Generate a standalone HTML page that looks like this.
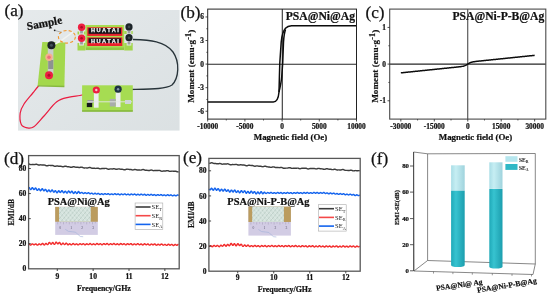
<!DOCTYPE html>
<html><head><meta charset="utf-8"><title>Figure</title>
<style>html,body{margin:0;padding:0;background:#fff;} svg{display:block;}</style></head>
<body><svg width="550" height="297" viewBox="0 0 550 297">
<defs>
<linearGradient id="bgsh" x1="0" y1="0" x2="1" y2="1"><stop offset="0" stop-color="#eef1f2" stop-opacity="0.4"/><stop offset="1" stop-color="#d2d9db" stop-opacity="0.35"/></linearGradient>
<linearGradient id="cyl1" x1="0" y1="0" x2="1" y2="0"><stop offset="0" stop-color="#a9dde6"/><stop offset="0.35" stop-color="#c6eef3"/><stop offset="1" stop-color="#9fd3dd"/></linearGradient>
<linearGradient id="cyl2" x1="0" y1="0" x2="1" y2="0"><stop offset="0" stop-color="#1fa9b8"/><stop offset="0.35" stop-color="#37c3d0"/><stop offset="1" stop-color="#1c9eae"/></linearGradient>
<pattern id="hatch" width="3.2" height="3.2" patternUnits="userSpaceOnUse" patternTransform="rotate(40)"><line x1="0" y1="0" x2="0" y2="3.2" stroke="#97aea6" stroke-width="0.6"/></pattern>
<pattern id="hatch2" width="3.2" height="3.2" patternUnits="userSpaceOnUse" patternTransform="rotate(-40)"><line x1="0" y1="0" x2="0" y2="3.2" stroke="#eef4f1" stroke-width="0.7"/></pattern>
</defs>
<rect width="550" height="297" fill="#fff"/>
<g>
<rect x="18" y="10" width="161.5" height="120.5" fill="#e0e5e7"/>
<rect x="18" y="10" width="161.5" height="120.5" fill="url(#bgsh)"/>
<path d="M133,39.5 C150,40 165,41 173,52 C180,62 179,78 172,85 C165,89.5 150,89 126,89.5" fill="none" stroke="#28343a" stroke-width="1.3"/>
<path d="M46.5,77.5 C45.58,78.42 43.28,80.42 41,83 C38.72,85.58 35.63,89.5 32.8,93 C29.97,96.5 26.1,100.67 24,104 C21.9,107.33 20.65,109.58 20.2,113 C19.75,116.42 20.17,122.03 21.3,124.5 C22.43,126.97 24.92,127.42 27,127.8 C29.08,128.18 30.97,128.77 33.8,126.8 C36.63,124.83 40.17,120.17 44,116 C47.83,111.83 52.58,104.95 56.8,101.8 C61.02,98.65 65.43,98.15 69.3,97.1 C73.17,96.05 76.7,96.18 80,95.5 C83.3,94.82 86.7,93.92 89.1,93 C91.5,92.08 93.52,90.5 94.4,90" fill="none" stroke="#ea1c40" stroke-width="1.2"/>
<polygon points="42.3,42 65.4,42.5 64.4,86.3 37.6,85.7" fill="#a3d84c"/>
<polygon points="37.6,85.2 64.4,85.8 64.4,87.2 37.8,86.6" fill="#86b83e"/>
<path d="M54,44.5 L60.5,41 L73,32" stroke="#f2f3f0" stroke-width="1.5" fill="none"/>
<rect x="47.8" y="48" width="5.6" height="26" fill="#c9cccc"/>
<rect x="48.2" y="60" width="5" height="9" fill="#8d9290"/>
<circle cx="51.4" cy="45.3" r="4" fill="#1b2226"/><circle cx="51.4" cy="45.3" r="1.5" fill="#43505a"/>
<circle cx="49" cy="57.2" r="3.7" fill="#f4b08c"/><circle cx="49" cy="57.2" r="1.8" fill="#ec6e7c"/>
<circle cx="49" cy="75.2" r="4" fill="#ec1f42"/><circle cx="49" cy="75.2" r="1.5" fill="#b01028"/>
<rect x="85.4" y="25" width="38.8" height="24.8" fill="#a8dc50"/>
<rect x="77.5" y="43" width="8" height="7.5" fill="#a2d64c"/>
<rect x="124.2" y="43" width="8.5" height="7.5" fill="#a2d64c"/>
<rect x="77.5" y="31.5" width="8" height="3" fill="#a2d64c"/>
<rect x="124.2" y="31" width="8.5" height="3" fill="#a2d64c"/>
<rect x="86" y="47.5" width="38" height="2.6" fill="#90c642"/>
<rect x="79.2" y="29" width="4.6" height="5.5" fill="#e8eaea"/>
<rect x="80.1" y="30.5" width="2.8" height="3" fill="#9ca0a0"/>
<rect x="79.2" y="40" width="4.6" height="5.5" fill="#e8eaea"/>
<rect x="80.1" y="41.5" width="2.8" height="3" fill="#9ca0a0"/>
<rect x="126.7" y="29" width="4.6" height="5.5" fill="#e8eaea"/>
<rect x="127.6" y="30.5" width="2.8" height="3" fill="#9ca0a0"/>
<rect x="126.7" y="40" width="4.6" height="5.5" fill="#e8eaea"/>
<rect x="127.6" y="41.5" width="2.8" height="3" fill="#9ca0a0"/>
<rect x="87.3" y="27.3" width="35" height="8.6" fill="#e8202c"/>
<rect x="88.6" y="28.2" width="32.4" height="5.6" fill="#16161a"/>
<text x="105.7" y="32.4" text-anchor="middle" style="font-size:5.6px;font-weight:bold;font-family:'Liberation Sans',sans-serif;letter-spacing:1.5px" fill="#f6f6f6" stroke="#f6f6f6" stroke-width="0.25">HUATAI</text>
<rect x="87.3" y="37.4" width="35" height="8.6" fill="#e8202c"/>
<rect x="88.6" y="38.3" width="32.4" height="4.6" fill="#16161a"/>
<text x="105.7" y="42.5" text-anchor="middle" style="font-size:5.6px;font-weight:bold;font-family:'Liberation Sans',sans-serif;letter-spacing:1.5px" fill="#f6f6f6" stroke="#f6f6f6" stroke-width="0.25">HUATAI</text>
<circle cx="81.6" cy="27.2" r="3.7" fill="#ee1f40"/><circle cx="81.6" cy="27.2" r="1.3" fill="#a80d22"/>
<circle cx="81.6" cy="38.3" r="3.7" fill="#ee1f40"/><circle cx="81.6" cy="38.3" r="1.3" fill="#a80d22"/>
<circle cx="129" cy="26.9" r="3.6" fill="#1c2428"/><circle cx="129" cy="26.9" r="1.3" fill="#3d474c"/>
<circle cx="129" cy="37.7" r="3.6" fill="#1c2428"/><circle cx="129" cy="37.7" r="1.3" fill="#3d474c"/>
<ellipse cx="66.9" cy="36.8" rx="8.5" ry="6.3" fill="none" stroke="#f2962a" stroke-width="1.1" stroke-dasharray="3,2.2"/>
<circle cx="54.7" cy="30.3" r="0.9" fill="#222"/>
<line x1="55" y1="30.5" x2="61.5" y2="32.3" stroke="#777" stroke-width="0.5"/>
<text transform="translate(27.5,30.2) rotate(-11)" style="font-size:11.3px;font-weight:bold;font-family:'Liberation Serif',serif" fill="#111" stroke="#111" stroke-width="0.25">Sample</text>
<rect x="82.1" y="85.3" width="50.7" height="25.9" fill="#a6dc52"/>
<rect x="82.1" y="110.2" width="50.7" height="1.6" fill="#86b83e"/>
<rect x="93.9" y="93" width="4.7" height="14.7" fill="#eceeee"/>
<rect x="115.7" y="92.4" width="4.8" height="14.7" fill="#eceeee"/>
<rect x="87.4" y="100" width="5.9" height="3" fill="#9a9c9c"/>
<rect x="86.8" y="103" width="5.4" height="4.1" fill="#15181a"/>
<rect x="109.8" y="98.9" width="5.9" height="7.6" fill="#a9acac"/>
<line x1="87.4" y1="101.8" x2="132" y2="101.8" stroke="#e4e6e6" stroke-width="0.9"/>
<rect x="125" y="100" width="6" height="4" fill="#cfd6d6"/>
<circle cx="96.3" cy="90" r="3.6" fill="#ee1f40"/><circle cx="96.3" cy="90" r="1.2" fill="#f5c8cf"/>
<circle cx="118.1" cy="89.2" r="3.6" fill="#1e3244"/><circle cx="118.1" cy="89.2" r="1.2" fill="#7f94a4"/>
</g>
<text x="4.5" y="16.4" style="font-size:17.2px;font-family:'Liberation Serif',serif" fill="#111" stroke="#111" stroke-width="0.25">(a)</text>
<text x="180.5" y="17.9" style="font-size:17.2px;font-family:'Liberation Serif',serif" fill="#111" stroke="#111" stroke-width="0.25">(b)</text>
<line x1="207.7" y1="64.3" x2="356.5" y2="64.3" stroke="#262626" stroke-width="1.1"/>
<line x1="282.3" y1="9.1" x2="282.3" y2="119.1" stroke="#333" stroke-width="1.1"/>
<path d="M207.7,101.9 L273.3,101.9 C276.6,101.9 278.4,99.5 279,92 L279.4,77 L279.8,63 L281.2,42 C281.8,35.5 283,31 285.5,28.2 C287,26.6 288.8,25.8 291.5,25.7 L356.5,25.7" fill="none" stroke="#0c0c0c" stroke-width="1.5" stroke-linejoin="round"/>
<path d="M279,92 C280.2,87 281.3,81.5 281.7,77 L282.7,63 L283.5,42 C283.8,37 284.5,32.5 285.5,29.5" fill="none" stroke="#0c0c0c" stroke-width="1.5" stroke-linejoin="round"/>
<rect x="207.7" y="9.1" width="148.8" height="110" fill="none" stroke="#222" stroke-width="1"/>
<line x1="205.5" y1="111.24" x2="207.7" y2="111.24" stroke="#222" stroke-width="0.8"/>
<text x="204" y="113.74" text-anchor="end" style="font-size:7.4px;font-weight:bold;font-family:'Liberation Serif',serif" fill="#111" stroke="#111" stroke-width="0.22" >-6</text>
<line x1="205.5" y1="87.67" x2="207.7" y2="87.67" stroke="#222" stroke-width="0.8"/>
<text x="204" y="90.17" text-anchor="end" style="font-size:7.4px;font-weight:bold;font-family:'Liberation Serif',serif" fill="#111" stroke="#111" stroke-width="0.22" >-3</text>
<line x1="205.5" y1="64.1" x2="207.7" y2="64.1" stroke="#222" stroke-width="0.8"/>
<text x="204" y="66.6" text-anchor="end" style="font-size:7.4px;font-weight:bold;font-family:'Liberation Serif',serif" fill="#111" stroke="#111" stroke-width="0.22" >0</text>
<line x1="205.5" y1="40.53" x2="207.7" y2="40.53" stroke="#222" stroke-width="0.8"/>
<text x="204" y="43.03" text-anchor="end" style="font-size:7.4px;font-weight:bold;font-family:'Liberation Serif',serif" fill="#111" stroke="#111" stroke-width="0.22" >3</text>
<line x1="205.5" y1="16.96" x2="207.7" y2="16.96" stroke="#222" stroke-width="0.8"/>
<text x="204" y="19.46" text-anchor="end" style="font-size:7.4px;font-weight:bold;font-family:'Liberation Serif',serif" fill="#111" stroke="#111" stroke-width="0.22" >6</text>
<line x1="206.29999999999998" y1="99.46" x2="207.7" y2="99.46" stroke="#222" stroke-width="0.7"/>
<line x1="206.29999999999998" y1="75.89" x2="207.7" y2="75.89" stroke="#222" stroke-width="0.7"/>
<line x1="206.29999999999998" y1="52.31" x2="207.7" y2="52.31" stroke="#222" stroke-width="0.7"/>
<line x1="206.29999999999998" y1="28.74" x2="207.7" y2="28.74" stroke="#222" stroke-width="0.7"/>
<line x1="207.7" y1="119.1" x2="207.7" y2="121.5" stroke="#222" stroke-width="0.8"/>
<text x="207.7" y="128.8" text-anchor="middle" style="font-size:7.4px;font-weight:bold;font-family:'Liberation Serif',serif" fill="#111" stroke="#111" stroke-width="0.22" >-10000</text>
<line x1="244.9" y1="119.1" x2="244.9" y2="121.5" stroke="#222" stroke-width="0.8"/>
<text x="244.9" y="128.8" text-anchor="middle" style="font-size:7.4px;font-weight:bold;font-family:'Liberation Serif',serif" fill="#111" stroke="#111" stroke-width="0.22" >-5000</text>
<line x1="282.1" y1="119.1" x2="282.1" y2="121.5" stroke="#222" stroke-width="0.8"/>
<text x="282.1" y="128.8" text-anchor="middle" style="font-size:7.4px;font-weight:bold;font-family:'Liberation Serif',serif" fill="#111" stroke="#111" stroke-width="0.22" >0</text>
<line x1="319.3" y1="119.1" x2="319.3" y2="121.5" stroke="#222" stroke-width="0.8"/>
<text x="319.3" y="128.8" text-anchor="middle" style="font-size:7.4px;font-weight:bold;font-family:'Liberation Serif',serif" fill="#111" stroke="#111" stroke-width="0.22" >5000</text>
<line x1="356.5" y1="119.1" x2="356.5" y2="121.5" stroke="#222" stroke-width="0.8"/>
<text x="356.5" y="128.8" text-anchor="middle" style="font-size:7.4px;font-weight:bold;font-family:'Liberation Serif',serif" fill="#111" stroke="#111" stroke-width="0.22" >10000</text>
<line x1="226.3" y1="119.1" x2="226.3" y2="120.5" stroke="#222" stroke-width="0.7"/>
<line x1="263.5" y1="119.1" x2="263.5" y2="120.5" stroke="#222" stroke-width="0.7"/>
<line x1="300.7" y1="119.1" x2="300.7" y2="120.5" stroke="#222" stroke-width="0.7"/>
<line x1="337.9" y1="119.1" x2="337.9" y2="120.5" stroke="#222" stroke-width="0.7"/>
<text x="290.5" y="140" text-anchor="middle" style="font-size:8.9px;font-weight:bold;font-family:'Liberation Serif',serif" fill="#111" stroke="#111" stroke-width="0.22" >Magnetic field (Oe)</text>
<text transform="translate(194,66.3) rotate(-90)" text-anchor="middle" style="font-size:9.2px;font-weight:bold;font-family:'Liberation Serif',serif" fill="#111" stroke="#111" stroke-width="0.2">Moment (emu·g<tspan dy="-3.2" style="font-size:8.4px">-1</tspan><tspan dy="3.2">)</tspan></text>
<text x="355" y="20.2" text-anchor="end" style="font-size:11.6px;font-weight:bold;font-family:'Liberation Serif',serif" fill="#111" stroke="#111" stroke-width="0.22" >PSA@Ni@Ag</text>
<text x="365.5" y="17.5" style="font-size:17.2px;font-family:'Liberation Serif',serif" fill="#111" stroke="#111" stroke-width="0.25">(c)</text>
<line x1="389.7" y1="64.1" x2="545.8" y2="64.1" stroke="#262626" stroke-width="1.1"/>
<line x1="467.75" y1="9.1" x2="467.75" y2="119.1" stroke="#3a3a3a" stroke-width="1"/>
<polyline points="400.85,72.86 401.41,72.81 401.96,72.75 402.52,72.69 403.08,72.63 403.64,72.57 404.19,72.52 404.75,72.46 405.31,72.4 405.87,72.34 406.42,72.29 406.98,72.23 407.54,72.17 408.1,72.11 408.65,72.05 409.21,72 409.77,71.94 410.33,71.88 410.88,71.82 411.44,71.77 412,71.71 412.56,71.65 413.12,71.59 413.67,71.54 414.23,71.48 414.79,71.42 415.34,71.36 415.9,71.3 416.46,71.25 417.02,71.19 417.57,71.13 418.13,71.07 418.69,71.02 419.25,70.96 419.81,70.9 420.36,70.84 420.92,70.78 421.48,70.73 422.03,70.67 422.59,70.61 423.15,70.55 423.71,70.5 424.26,70.44 424.82,70.38 425.38,70.32 425.94,70.26 426.5,70.21 427.05,70.15 427.61,70.09 428.17,70.03 428.72,69.98 429.28,69.92 429.84,69.86 430.4,69.8 430.95,69.74 431.51,69.69 432.07,69.63 432.63,69.57 433.19,69.51 433.74,69.46 434.3,69.4 434.86,69.34 435.41,69.28 435.97,69.23 436.53,69.17 437.09,69.11 437.64,69.05 438.2,68.99 438.76,68.94 439.32,68.88 439.88,68.82 440.43,68.76 440.99,68.71 441.55,68.65 442.1,68.59 442.66,68.53 443.22,68.47 443.78,68.42 444.33,68.36 444.89,68.3 445.45,68.24 446.01,68.19 446.56,68.13 447.12,68.07 447.68,68.01 448.24,67.95 448.79,67.9 449.35,67.84 449.91,67.78 450.47,67.72 451.02,67.67 451.58,67.61 452.14,67.55 452.7,67.49 453.25,67.43 453.81,67.38 454.37,67.32 454.93,67.26 455.48,67.2 456.04,67.14 456.6,67.08 457.16,67.02 457.71,66.96 458.27,66.9 458.83,66.84 459.39,66.78 459.94,66.71 460.5,66.64 461.06,66.56 461.62,66.48 462.17,66.38 462.73,66.28 463.29,66.16 463.85,66.01 464.4,65.84 464.96,65.64 465.52,65.4 466.08,65.12 466.63,64.8 467.19,64.46 467.75,64.1 468.31,63.74 468.86,63.4 469.42,63.08 469.98,62.8 470.54,62.56 471.09,62.36 471.65,62.19 472.21,62.04 472.77,61.92 473.32,61.82 473.88,61.72 474.44,61.64 475,61.56 475.55,61.49 476.11,61.42 476.67,61.36 477.23,61.3 477.78,61.24 478.34,61.18 478.9,61.12 479.46,61.06 480.01,61 480.57,60.94 481.13,60.88 481.69,60.82 482.24,60.77 482.8,60.71 483.36,60.65 483.92,60.59 484.47,60.53 485.03,60.48 485.59,60.42 486.15,60.36 486.7,60.3 487.26,60.25 487.82,60.19 488.38,60.13 488.93,60.07 489.49,60.01 490.05,59.96 490.61,59.9 491.16,59.84 491.72,59.78 492.28,59.73 492.84,59.67 493.39,59.61 493.95,59.55 494.51,59.49 495.07,59.44 495.62,59.38 496.18,59.32 496.74,59.26 497.3,59.21 497.85,59.15 498.41,59.09 498.97,59.03 499.53,58.97 500.08,58.92 500.64,58.86 501.2,58.8 501.76,58.74 502.31,58.69 502.87,58.63 503.43,58.57 503.99,58.51 504.54,58.46 505.1,58.4 505.66,58.34 506.22,58.28 506.77,58.22 507.33,58.17 507.89,58.11 508.45,58.05 509,57.99 509.56,57.94 510.12,57.88 510.68,57.82 511.23,57.76 511.79,57.7 512.35,57.65 512.91,57.59 513.46,57.53 514.02,57.47 514.58,57.42 515.14,57.36 515.69,57.3 516.25,57.24 516.81,57.18 517.37,57.13 517.92,57.07 518.48,57.01 519.04,56.95 519.6,56.9 520.15,56.84 520.71,56.78 521.27,56.72 521.83,56.66 522.38,56.61 522.94,56.55 523.5,56.49 524.06,56.43 524.62,56.38 525.17,56.32 525.73,56.26 526.29,56.2 526.85,56.15 527.4,56.09 527.96,56.03 528.52,55.97 529.07,55.91 529.63,55.86 530.19,55.8 530.75,55.74 531.3,55.68 531.86,55.63 532.42,55.57 532.98,55.51 533.53,55.45 534.09,55.39 534.65,55.34" fill="none" stroke="#0c0c0c" stroke-width="1.5"/>
<rect x="389.7" y="9.1" width="156.1" height="110" fill="none" stroke="#4a4a4a" stroke-width="1.1"/>
<line x1="387.5" y1="100.77" x2="389.7" y2="100.77" stroke="#222" stroke-width="0.8"/>
<text x="386" y="103.27" text-anchor="end" style="font-size:7.4px;font-weight:bold;font-family:'Liberation Serif',serif" fill="#111" stroke="#111" stroke-width="0.22" >-1</text>
<line x1="387.5" y1="64.1" x2="389.7" y2="64.1" stroke="#222" stroke-width="0.8"/>
<text x="386" y="66.6" text-anchor="end" style="font-size:7.4px;font-weight:bold;font-family:'Liberation Serif',serif" fill="#111" stroke="#111" stroke-width="0.22" >0</text>
<line x1="387.5" y1="27.43" x2="389.7" y2="27.43" stroke="#222" stroke-width="0.8"/>
<text x="386" y="29.93" text-anchor="end" style="font-size:7.4px;font-weight:bold;font-family:'Liberation Serif',serif" fill="#111" stroke="#111" stroke-width="0.22" >1</text>
<line x1="388.3" y1="82.43" x2="389.7" y2="82.43" stroke="#222" stroke-width="0.7"/>
<line x1="388.3" y1="45.77" x2="389.7" y2="45.77" stroke="#222" stroke-width="0.7"/>
<line x1="400.85" y1="119.1" x2="400.85" y2="121.5" stroke="#222" stroke-width="0.8"/>
<text x="400.85" y="128.8" text-anchor="middle" style="font-size:7.4px;font-weight:bold;font-family:'Liberation Serif',serif" fill="#111" stroke="#111" stroke-width="0.22" >-30000</text>
<line x1="434.3" y1="119.1" x2="434.3" y2="121.5" stroke="#222" stroke-width="0.8"/>
<text x="434.3" y="128.8" text-anchor="middle" style="font-size:7.4px;font-weight:bold;font-family:'Liberation Serif',serif" fill="#111" stroke="#111" stroke-width="0.22" >-15000</text>
<line x1="467.75" y1="119.1" x2="467.75" y2="121.5" stroke="#222" stroke-width="0.8"/>
<text x="467.75" y="128.8" text-anchor="middle" style="font-size:7.4px;font-weight:bold;font-family:'Liberation Serif',serif" fill="#111" stroke="#111" stroke-width="0.22" >0</text>
<line x1="501.2" y1="119.1" x2="501.2" y2="121.5" stroke="#222" stroke-width="0.8"/>
<text x="501.2" y="128.8" text-anchor="middle" style="font-size:7.4px;font-weight:bold;font-family:'Liberation Serif',serif" fill="#111" stroke="#111" stroke-width="0.22" >15000</text>
<line x1="534.65" y1="119.1" x2="534.65" y2="121.5" stroke="#222" stroke-width="0.8"/>
<text x="534.65" y="128.8" text-anchor="middle" style="font-size:7.4px;font-weight:bold;font-family:'Liberation Serif',serif" fill="#111" stroke="#111" stroke-width="0.22" >30000</text>
<line x1="417.57" y1="119.1" x2="417.57" y2="120.5" stroke="#222" stroke-width="0.7"/>
<line x1="451.02" y1="119.1" x2="451.02" y2="120.5" stroke="#222" stroke-width="0.7"/>
<line x1="484.47" y1="119.1" x2="484.47" y2="120.5" stroke="#222" stroke-width="0.7"/>
<line x1="517.92" y1="119.1" x2="517.92" y2="120.5" stroke="#222" stroke-width="0.7"/>
<text x="475.5" y="140" text-anchor="middle" style="font-size:8.9px;font-weight:bold;font-family:'Liberation Serif',serif" fill="#111" stroke="#111" stroke-width="0.22" >Magnetic field (Oe)</text>
<text transform="translate(378.4,66.3) rotate(-90)" text-anchor="middle" style="font-size:9.2px;font-weight:bold;font-family:'Liberation Serif',serif" fill="#111" stroke="#111" stroke-width="0.2">Moment (emu·g<tspan dy="-3.2" style="font-size:8.4px">-1</tspan><tspan dy="3.2">)</tspan></text>
<text x="544.3" y="20.2" text-anchor="end" style="font-size:11.6px;font-weight:bold;font-family:'Liberation Serif',serif" fill="#111" stroke="#111" stroke-width="0.22" >PSA@Ni-P-B@Ag</text>
<text x="4" y="163.5" style="font-size:17.2px;font-family:'Liberation Serif',serif" fill="#111" stroke="#111" stroke-width="0.25">(d)</text>
<polyline points="28.9,163.88 29.15,164 29.4,164.13 29.65,164.26 29.9,164.38 30.15,164.48 30.4,164.56 30.65,164.61 30.9,164.63 31.15,164.63 31.4,164.61 31.65,164.59 31.9,164.56 32.15,164.53 32.4,164.52 32.65,164.52 32.9,164.53 33.15,164.55 33.4,164.57 33.65,164.59 33.9,164.61 34.15,164.61 34.4,164.59 34.65,164.55 34.9,164.51 35.15,164.45 35.4,164.39 35.65,164.33 35.9,164.29 36.15,164.27 36.4,164.28 36.65,164.32 36.9,164.39 37.15,164.48 37.4,164.58 37.65,164.69 37.9,164.8 38.15,164.89 38.4,164.97 38.65,165.01 38.9,165.03 39.15,165.03 39.4,165 39.65,164.96 39.9,164.92 40.15,164.88 40.4,164.85 40.65,164.83 40.9,164.84 41.15,164.86 41.4,164.89 41.65,164.94 41.9,164.98 42.15,165.02 42.4,165.05 42.65,165.07 42.9,165.08 43.15,165.07 43.4,165.05 43.65,165.04 43.9,165.03 44.15,165.03 44.4,165.05 44.65,165.1 44.9,165.17 45.15,165.26 45.4,165.37 45.65,165.48 45.9,165.59 46.15,165.69 46.4,165.77 46.65,165.81 46.9,165.83 47.15,165.82 47.4,165.78 47.65,165.71 47.9,165.64 48.15,165.56 48.4,165.48 48.65,165.42 48.9,165.38 49.15,165.35 49.4,165.35 49.65,165.37 49.9,165.39 50.15,165.42 50.4,165.45 50.65,165.47 50.9,165.48 51.15,165.48 51.4,165.48 51.65,165.46 51.9,165.45 52.15,165.45 52.4,165.46 52.65,165.5 52.9,165.55 53.15,165.64 53.4,165.74 53.65,165.85 53.9,165.97 54.15,166.08 54.4,166.18 54.65,166.25 54.9,166.3 55.15,166.32 55.4,166.31 55.65,166.27 55.9,166.21 56.15,166.15 56.4,166.08 56.65,166.03 56.9,165.99 57.15,165.98 57.4,165.99 57.65,166.02 57.9,166.06 58.15,166.12 58.4,166.17 58.65,166.23 58.9,166.27 59.15,166.3 59.4,166.31 59.65,166.31 59.9,166.31 60.15,166.29 60.4,166.29 60.65,166.29 60.9,166.3 61.15,166.34 61.4,166.39 61.65,166.46 61.9,166.53 62.15,166.6 62.4,166.67 62.65,166.71 62.9,166.73 63.15,166.73 63.4,166.7 63.65,166.64 63.9,166.56 64.15,166.47 64.4,166.38 64.65,166.3 64.9,166.23 65.15,166.19 65.4,166.18 65.65,166.2 65.9,166.24 66.15,166.31 66.4,166.38 66.65,166.47 66.9,166.55 67.15,166.62 67.4,166.67 67.65,166.71 67.9,166.74 68.15,166.76 68.4,166.78 68.65,166.8 68.9,166.82 69.15,166.86 69.4,166.92 69.65,166.98 69.9,167.06 70.15,167.14 70.4,167.21 70.65,167.28 70.9,167.32 71.15,167.33 71.4,167.32 71.65,167.28 71.9,167.21 72.15,167.12 72.4,167.03 72.65,166.94 72.9,166.86 73.15,166.8 73.4,166.76 73.65,166.75 73.9,166.78 74.15,166.82 74.4,166.89 74.65,166.96 74.9,167.03 75.15,167.1 75.4,167.15 75.65,167.19 75.9,167.21 76.15,167.21 76.4,167.2 76.65,167.19 76.9,167.18 77.15,167.18 77.4,167.19 77.65,167.22 77.9,167.26 78.15,167.31 78.4,167.37 78.65,167.42 78.9,167.47 79.15,167.49 79.4,167.5 79.65,167.48 79.9,167.44 80.15,167.39 80.4,167.32 80.65,167.26 80.9,167.2 81.15,167.16 81.4,167.14 81.65,167.15 81.9,167.2 82.15,167.27 82.4,167.36 82.65,167.47 82.9,167.58 83.15,167.69 83.4,167.79 83.65,167.86 83.9,167.91 84.15,167.94 84.4,167.95 84.65,167.94 84.9,167.92 85.15,167.9 85.4,167.88 85.65,167.88 85.9,167.88 86.15,167.9 86.4,167.92 86.65,167.94 86.9,167.96 87.15,167.97 87.4,167.97 87.65,167.94 87.9,167.89 88.15,167.83 88.4,167.75 88.65,167.67 88.9,167.59 89.15,167.53 89.4,167.48 89.65,167.47 89.9,167.48 90.15,167.53 90.4,167.61 90.65,167.7 90.9,167.81 91.15,167.93 91.4,168.03 91.65,168.12 91.9,168.19 92.15,168.24 92.4,168.26 92.65,168.26 92.9,168.25 93.15,168.23 93.4,168.21 93.65,168.2 93.9,168.2 94.15,168.21 94.4,168.24 94.65,168.27 94.9,168.32 95.15,168.35 95.4,168.39 95.65,168.4 95.9,168.4 96.15,168.38 96.4,168.35 96.65,168.3 96.9,168.25 97.15,168.2 97.4,168.17 97.65,168.16 97.9,168.17 98.15,168.21 98.4,168.28 98.65,168.37 98.9,168.47 99.15,168.57 99.4,168.67 99.65,168.76 99.9,168.82 100.15,168.85 100.4,168.85 100.65,168.82 100.9,168.77 101.15,168.71 101.4,168.64 101.65,168.57 101.9,168.51 102.15,168.47 102.4,168.45 102.65,168.44 102.9,168.44 103.15,168.46 103.4,168.48 103.65,168.49 103.9,168.5 104.15,168.49 104.4,168.47 104.65,168.44 104.9,168.41 105.15,168.38 105.4,168.35 105.65,168.35 105.9,168.36 106.15,168.41 106.4,168.48 106.65,168.57 106.9,168.68 107.15,168.8 107.4,168.93 107.65,169.04 107.9,169.13 108.15,169.19 108.4,169.23 108.65,169.23 108.9,169.2 109.15,169.16 109.4,169.09 109.65,169.03 109.9,168.96 110.15,168.91 110.4,168.87 110.65,168.86 110.9,168.86 111.15,168.87 111.4,168.89 111.65,168.91 111.9,168.93 112.15,168.94 112.4,168.93 112.65,168.91 112.9,168.88 113.15,168.84 113.4,168.81 113.65,168.78 113.9,168.76 114.15,168.77 114.4,168.8 114.65,168.85 114.9,168.92 115.15,169 115.4,169.09 115.65,169.18 115.9,169.25 116.15,169.3 116.4,169.33 116.65,169.32 116.9,169.29 117.15,169.23 117.4,169.16 117.65,169.08 117.9,169.01 118.15,168.94 118.4,168.89 118.65,168.87 118.9,168.87 119.15,168.9 119.4,168.94 119.65,169 119.9,169.06 120.15,169.11 120.4,169.16 120.65,169.2 120.9,169.22 121.15,169.23 121.4,169.23 121.65,169.23 121.9,169.24 122.15,169.26 122.4,169.29 122.65,169.34 122.9,169.41 123.15,169.49 123.4,169.57 123.65,169.66 123.9,169.73 124.15,169.78 124.4,169.81 124.65,169.81 124.9,169.77 125.15,169.71 125.4,169.62 125.65,169.52 125.9,169.42 126.15,169.32 126.4,169.23 126.65,169.17 126.9,169.13 127.15,169.13 127.4,169.14 127.65,169.18 127.9,169.22 128.15,169.28 128.4,169.33 128.65,169.37 128.9,169.39 129.15,169.41 129.4,169.41 129.65,169.41 129.9,169.4 130.15,169.41 130.4,169.42 130.65,169.45 130.9,169.49 131.15,169.56 131.4,169.63 131.65,169.71 131.9,169.79 132.15,169.86 132.4,169.9 132.65,169.93 132.9,169.93 133.15,169.9 133.4,169.84 133.65,169.77 133.9,169.69 134.15,169.62 134.4,169.55 134.65,169.5 134.9,169.48 135.15,169.49 135.4,169.52 135.65,169.58 135.9,169.65 136.15,169.73 136.4,169.81 136.65,169.89 136.9,169.94 137.15,169.98 137.4,170 137.65,170 137.9,169.99 138.15,169.97 138.4,169.96 138.65,169.95 138.9,169.95 139.15,169.96 139.4,169.99 139.65,170.02 139.9,170.06 140.15,170.09 140.4,170.11 140.65,170.12 140.9,170.1 141.15,170.06 141.4,170 141.65,169.92 141.9,169.82 142.15,169.73 142.4,169.65 142.65,169.59 142.9,169.55 143.15,169.54 143.4,169.57 143.65,169.63 143.9,169.71 144.15,169.8 144.4,169.91 144.65,170.02 144.9,170.11 145.15,170.19 145.4,170.25 145.65,170.28 145.9,170.3 146.15,170.31 146.4,170.31 146.65,170.3 146.9,170.31 147.15,170.32 147.4,170.35 147.65,170.38 147.9,170.43 148.15,170.47 148.4,170.51 148.65,170.54 148.9,170.55 149.15,170.54 149.4,170.5 149.65,170.44 149.9,170.37 150.15,170.29 150.4,170.21 150.65,170.14 150.9,170.09 151.15,170.07 151.4,170.07 151.65,170.1 151.9,170.16 152.15,170.24 152.4,170.33 152.65,170.43 152.9,170.51 153.15,170.58 153.4,170.63 153.65,170.65 153.9,170.65 154.15,170.63 154.4,170.59 154.65,170.55 154.9,170.51 155.15,170.48 155.4,170.46 155.65,170.46 155.9,170.47 156.15,170.49 156.4,170.52 156.65,170.55 156.9,170.57 157.15,170.58 157.4,170.57 157.65,170.55 157.9,170.51 158.15,170.47 158.4,170.42 158.65,170.38 158.9,170.35 159.15,170.35 159.4,170.37 159.65,170.43 159.9,170.51 160.15,170.61 160.4,170.73 160.65,170.85 160.9,170.97 161.15,171.07 161.4,171.15 161.65,171.2 161.9,171.23 162.15,171.22 162.4,171.19 162.65,171.15 162.9,171.09 163.15,171.04 163.4,170.99 163.65,170.95 163.9,170.93 164.15,170.93 164.4,170.93 164.65,170.94 164.9,170.95 165.15,170.95 165.4,170.94 165.65,170.92 165.9,170.88 166.15,170.83 166.4,170.77 166.65,170.72 166.9,170.67 167.15,170.64 167.4,170.64 167.65,170.66 167.9,170.71 168.15,170.78 168.4,170.88 168.65,170.98 168.9,171.09 169.15,171.19 169.4,171.28 169.65,171.34 169.9,171.37 170.15,171.38 170.4,171.36 170.65,171.31 170.9,171.26 171.15,171.21 171.4,171.16 171.65,171.12 171.9,171.1 172.15,171.1 172.4,171.12 172.65,171.15 172.9,171.19 173.15,171.23 173.4,171.27 173.65,171.3 173.9,171.31 174.15,171.31 174.4,171.3 174.65,171.28 174.9,171.26 175.15,171.24 175.4,171.24 175.65,171.26 175.9,171.3 176.15,171.36 176.4,171.44 176.65,171.53 176.9,171.63 177.15,171.71 177.4,171.79 177.65,171.83 177.9,171.85 178.15,171.84 178.4,171.8 178.65,171.73" fill="none" stroke="#3c3c3c" stroke-width="1.45" stroke-linejoin="round"/>
<polyline points="28.9,187.53 29.15,187.59 29.4,187.84 29.65,188.24 29.9,188.71 30.15,189.14 30.4,189.46 30.65,189.59 30.9,189.51 31.15,189.23 31.4,188.82 31.65,188.37 31.9,187.97 32.15,187.73 32.4,187.67 32.65,187.83 32.9,188.16 33.15,188.59 33.4,189.03 33.65,189.37 33.9,189.55 34.15,189.53 34.4,189.32 34.65,188.98 34.9,188.58 35.15,188.24 35.4,188.02 35.65,188.01 35.9,188.21 36.15,188.59 36.4,189.08 36.65,189.59 36.9,190.02 37.15,190.29 37.4,190.36 37.65,190.22 37.9,189.92 38.15,189.53 38.4,189.16 38.65,188.89 38.9,188.8 39.15,188.91 39.4,189.2 39.65,189.61 39.9,190.05 40.15,190.43 40.4,190.66 40.65,190.69 40.9,190.51 41.15,190.16 41.4,189.72 41.65,189.28 41.9,188.94 42.15,188.78 42.4,188.83 42.65,189.08 42.9,189.49 43.15,189.95 43.4,190.39 43.65,190.7 43.9,190.83 44.15,190.75 44.4,190.51 44.65,190.15 44.9,189.79 45.15,189.5 45.4,189.37 45.65,189.45 45.9,189.73 46.15,190.16 46.4,190.67 46.65,191.15 46.9,191.51 47.15,191.69 47.4,191.64 47.65,191.41 47.9,191.03 48.15,190.61 48.4,190.25 48.65,190.02 48.9,189.98 49.15,190.14 49.4,190.47 49.65,190.89 49.9,191.31 50.15,191.63 50.4,191.78 50.65,191.73 50.9,191.48 51.15,191.09 51.4,190.66 51.65,190.27 51.9,190.01 52.15,189.96 52.4,190.12 52.65,190.47 52.9,190.93 53.15,191.42 53.4,191.84 53.65,192.11 53.9,192.17 54.15,192.04 54.4,191.76 54.65,191.39 54.9,191.05 55.15,190.8 55.4,190.73 55.65,190.86 55.9,191.17 56.15,191.6 56.4,192.07 56.65,192.46 56.9,192.71 57.15,192.75 57.4,192.58 57.65,192.23 57.9,191.78 58.15,191.32 58.4,190.96 58.65,190.77 58.9,190.78 59.15,190.99 59.4,191.34 59.65,191.75 59.9,192.12 60.15,192.37 60.4,192.43 60.65,192.3 60.9,191.99 61.15,191.57 61.4,191.14 61.65,190.8 61.9,190.63 62.15,190.67 62.4,190.91 62.65,191.32 62.9,191.8 63.15,192.27 63.4,192.63 63.65,192.8 63.9,192.77 64.15,192.54 64.4,192.18 64.65,191.78 64.9,191.44 65.15,191.23 65.4,191.22 65.65,191.4 65.9,191.74 66.15,192.17 66.4,192.6 66.65,192.91 66.9,193.06 67.15,192.99 67.4,192.72 67.65,192.3 67.9,191.83 68.15,191.39 68.4,191.1 68.65,190.99 68.9,191.1 69.15,191.39 69.4,191.79 69.65,192.23 69.9,192.59 70.15,192.8 70.4,192.81 70.65,192.63 70.9,192.3 71.15,191.9 71.4,191.53 71.65,191.28 71.9,191.21 72.15,191.35 72.4,191.69 72.65,192.15 72.9,192.65 73.15,193.09 73.4,193.38 73.65,193.46 73.9,193.34 74.15,193.04 74.4,192.64 74.65,192.23 74.9,191.91 75.15,191.76 75.4,191.8 75.65,192.04 75.9,192.41 76.15,192.83 76.4,193.21 76.65,193.45 76.9,193.51 77.15,193.35 77.4,193.02 77.65,192.57 77.9,192.11 78.15,191.74 78.4,191.53 78.65,191.53 78.9,191.73 79.15,192.1 79.4,192.56 79.65,193 79.9,193.34 80.15,193.08 80.4,193.07 80.65,192.98 80.9,192.84 81.15,192.68 81.4,192.55 81.65,192.48 81.9,192.49 82.15,192.6 82.4,192.78 82.65,193 82.9,193.21 83.15,193.39 83.4,193.48 83.65,193.48 83.9,193.39 84.15,193.23 84.4,193.04 84.65,192.87 84.9,192.75 85.15,192.72 85.4,192.77 85.65,192.91 85.9,193.09 86.15,193.28 86.4,193.43 86.65,193.52 86.9,193.52 87.15,193.43 87.4,193.27 87.65,193.09 87.9,192.91 88.15,192.79 88.4,192.75 88.65,192.81 88.9,192.96 89.15,193.16 89.4,193.38 89.65,193.58 89.9,193.72 90.15,193.77 90.4,193.73 90.65,193.62 90.9,193.46 91.15,193.31 91.4,193.19 91.65,193.15 91.9,193.2 92.15,193.33 92.4,193.52 92.65,193.73 92.9,193.92 93.15,194.05 93.4,194.1 93.65,194.05 93.9,193.91 94.15,193.73 94.4,193.54 94.65,193.38 94.9,193.29 95.15,193.28 95.4,193.37 95.65,193.53 95.9,193.72 96.15,193.9 96.4,194.04 96.65,194.1 96.9,194.07 97.15,193.96 97.4,193.8 97.65,193.63 97.9,193.48 98.15,193.41 98.4,193.42 98.65,193.52 98.9,193.7 99.15,193.92 99.4,194.15 99.65,194.33 99.9,194.43 100.15,194.44 100.4,194.36 100.65,194.2 100.9,194.03 101.15,193.86 101.4,193.75 101.65,193.72 101.9,193.78 102.15,193.92 102.4,194.1 102.65,194.28 102.9,194.43 103.15,194.51 103.4,194.49 103.65,194.39 103.9,194.22 104.15,194.01 104.4,193.81 104.65,193.66 104.9,193.6 105.15,193.62 105.4,193.74 105.65,193.91 105.9,194.1 106.15,194.27 106.4,194.38 106.65,194.4 106.9,194.34 107.15,194.21 107.4,194.03 107.65,193.86 107.9,193.74 108.15,193.69 108.4,193.73 108.65,193.86 108.9,194.05 109.15,194.27 109.4,194.46 109.65,194.6 109.9,194.65 110.15,194.61 110.4,194.48 110.65,194.31 110.9,194.12 111.15,193.96 111.4,193.87 111.65,193.86 111.9,193.94 112.15,194.09 112.4,194.27 112.65,194.44 112.9,194.56 113.15,194.6 113.4,194.54 113.65,194.41 113.9,194.22 114.15,194.01 114.4,193.84 114.65,193.73 114.9,193.71 115.15,193.78 115.4,193.94 115.65,194.13 115.9,194.33 116.15,194.49 116.4,194.58 116.65,194.58 116.9,194.49 117.15,194.35 117.4,194.17 117.65,194.02 117.9,193.92 118.15,193.91 118.4,193.99 118.65,194.14 118.9,194.34 119.15,194.54 119.4,194.71 119.65,194.81 119.9,194.81 120.15,194.72 120.4,194.55 120.65,194.36 120.9,194.16 121.15,194.02 121.4,193.95 121.65,193.98 121.9,194.08 122.15,194.24 122.4,194.42 122.65,194.58 122.9,194.67 123.15,194.67 123.4,194.59 123.65,194.44 123.9,194.25 124.15,194.06 124.4,193.92 124.65,193.86 124.9,193.89 125.15,194.01 125.4,194.19 125.65,194.41 125.9,194.6 126.15,194.74 126.4,194.8 126.65,194.77 126.9,194.66 127.15,194.49 127.4,194.32 127.65,194.18 127.9,194.11 128.15,194.12 128.4,194.22 128.65,194.39 128.9,194.58 129.15,194.77 129.4,194.9 129.65,194.94 129.9,194.9 130.15,194.77 130.4,194.57 130.65,194.37 130.9,194.18 131.15,194.06 131.4,194.03 131.65,194.09 131.9,194.23 132.15,194.4 132.4,194.59 132.65,194.73 132.9,194.79 133.15,194.78 133.4,194.67 133.65,194.51 133.9,194.33 134.15,194.17 134.4,194.06 134.65,194.05 134.9,194.12 135.15,194.28 135.4,194.49 135.65,194.7 135.9,194.88 136.15,194.99 136.4,195.01 136.65,194.94 136.9,194.8 137.15,194.62 137.4,194.44 137.65,194.32 137.9,194.27 138.15,194.3 138.4,194.42 138.65,194.59 138.9,194.78 139.15,194.93 139.4,195.02 139.65,195.03 139.9,194.94 140.15,194.78 140.4,194.57 140.65,194.37 140.9,194.22 141.15,194.14 141.4,194.15 141.65,194.25 141.9,194.42 142.15,194.62 142.4,194.8 142.65,194.93 142.9,194.98 143.15,194.94 143.4,194.82 143.65,194.66 143.9,194.49 144.15,194.36 144.4,194.29 144.65,194.32 144.9,194.43 145.15,194.62 145.4,194.83 145.65,195.04 145.9,195.19 146.15,195.25 146.4,195.23 146.65,195.12 146.9,194.94 147.15,194.75 147.4,194.58 147.65,194.47 147.9,194.45 148.15,194.51 148.4,194.65 148.65,194.83 148.9,195 149.15,195.13 149.4,195.19 149.65,195.16 149.9,195.04 150.15,194.87 150.4,194.67 150.65,194.49 150.9,194.37 151.15,194.33 151.4,194.4 151.65,194.54 151.9,194.74 152.15,194.95 152.4,195.12 152.65,195.23 152.9,195.25 153.15,195.19 153.4,195.05 153.65,194.89 153.9,194.73 154.15,194.62 154.4,194.58 154.65,194.64 154.9,194.78 155.15,194.97 155.4,195.18 155.65,195.36 155.9,195.46 156.15,195.48 156.4,195.41 156.65,195.26 156.9,195.06 157.15,194.86 157.4,194.7 157.65,194.62 157.9,194.63 158.15,194.72 158.4,194.88 158.65,195.06 158.9,195.22 159.15,195.34 159.4,195.37 159.65,195.31 159.9,195.17 160.15,194.99 160.4,194.8 160.65,194.66 160.9,194.58 161.15,194.6 161.4,194.71 161.65,194.89 161.9,195.1 162.15,195.31 162.4,195.47 162.65,195.55 162.9,195.53 163.15,195.43 163.4,195.28 163.65,195.1 163.9,194.95 164.15,194.87 164.4,194.86 164.65,194.94 164.9,195.09 165.15,195.29 165.4,195.47 165.65,195.61 165.9,195.68 166.15,195.65 166.4,195.53 166.65,195.35 166.9,195.14 167.15,194.95 167.4,194.82 167.65,194.77 167.9,194.82 168.15,194.94 168.4,195.12 168.65,195.31 168.9,195.47 169.15,195.56 169.4,195.57 169.65,195.49 169.9,195.34 170.15,195.16 170.4,195 170.65,194.89 170.9,194.85 171.15,194.92 171.4,195.06 171.65,195.26 171.9,195.48 172.15,195.67 172.4,195.8 172.65,195.84 172.9,195.78 173.15,195.65 173.4,195.47 173.65,195.29 173.9,195.15 174.15,195.08 174.4,195.1 174.65,195.2 174.9,195.36 175.15,195.55 175.4,195.71 175.65,195.82 175.9,195.84 176.15,195.77 176.4,195.62 176.65,195.43 176.9,195.23 177.15,195.06 177.4,194.96 177.65,194.96 177.9,195.05 178.15,195.22 178.4,195.41 178.65,195.61" fill="none" stroke="#1464ee" stroke-width="1.45" stroke-linejoin="round"/>
<polyline points="28.9,244.12 29.15,244.17 29.4,244.31 29.65,244.52 29.9,244.74 30.15,244.94 30.4,245.07 30.65,245.1 30.9,245.02 31.15,244.84 31.4,244.6 31.65,244.34 31.9,244.1 32.15,243.94 32.4,243.88 32.65,243.94 32.9,244.08 33.15,244.29 33.4,244.51 33.65,244.7 33.9,244.82 34.15,244.83 34.4,244.75 34.65,244.58 34.9,244.36 35.15,244.15 35.4,244 35.65,243.93 35.9,243.97 36.15,244.12 36.4,244.35 36.65,244.61 36.9,244.87 37.15,245.06 37.4,245.14 37.65,245.11 37.9,244.96 38.15,244.72 38.4,244.44 38.65,244.18 38.9,243.98 39.15,243.88 39.4,243.9 39.65,244.03 39.9,244.24 40.15,244.47 40.4,244.67 40.65,244.79 40.9,244.79 41.15,244.67 41.4,244.45 41.65,244.16 41.9,243.86 42.15,243.62 42.4,243.47 42.65,243.46 42.9,243.6 43.15,243.85 43.4,244.17 43.65,244.49 43.9,244.76 44.15,244.91 44.4,244.91 44.65,244.77 44.9,244.51 45.15,244.18 45.4,243.85 45.65,243.59 45.9,243.45 46.15,243.46 46.4,243.61 46.65,243.87 46.9,244.16 47.15,244.42 47.4,244.59 47.65,244.6 47.9,244.44 48.15,244.12 48.4,243.7 48.65,243.25 48.9,242.85 49.15,242.57 49.4,242.47 49.65,242.56 49.9,242.82 50.15,243.18 50.4,243.58 50.65,243.92 50.9,244.13 51.15,244.17 51.4,244.03 51.65,243.73 51.9,243.36 52.15,242.98 52.4,242.68 52.65,242.54 52.9,242.58 53.15,242.8 53.4,243.16 53.65,243.59 53.9,243.98 54.15,244.26 54.4,244.36 54.65,244.25 54.9,243.95 55.15,243.52 55.4,243.03 55.65,242.59 55.9,242.26 56.15,242.13 56.4,242.19 56.65,242.44 56.9,242.82 57.15,243.23 57.4,243.6 57.65,243.85 57.9,243.92 58.15,243.81 58.4,243.55 58.65,243.21 58.9,242.86 59.15,242.6 59.4,242.48 59.65,242.56 59.9,242.81 60.15,243.2 60.4,243.66 60.65,244.11 60.9,244.46 61.15,244.65 61.4,244.66 61.65,244.49 61.9,244.19 62.15,243.83 62.4,243.48 62.65,243.23 62.9,243.11 63.15,243.16 63.4,243.35 63.65,243.65 63.9,243.98 64.15,244.27 64.4,244.46 64.65,244.52 64.9,244.42 65.15,244.2 65.4,243.91 65.65,243.6 65.9,243.35 66.15,243.21 66.4,243.22 66.65,243.37 66.9,243.64 67.15,243.99 67.4,244.33 67.65,244.62 67.9,244.81 68.15,244.85 68.4,244.77 68.65,244.58 68.9,244.33 69.15,244.08 69.4,243.89 69.65,243.8 69.9,243.82 70.15,243.95 70.4,244.17 70.65,244.42 70.9,244.64 71.15,244.8 71.4,244.84 71.65,244.77 71.9,244.59 72.15,244.33 72.4,244.05 72.65,243.8 72.9,243.62 73.15,243.56 73.4,243.61 73.65,243.78 73.9,244.01 74.15,244.26 74.4,244.49 74.65,244.64 74.9,244.7 75.15,244.64 75.4,244.5 75.65,244.3 75.9,244.09 76.15,243.93 76.4,243.84 76.65,243.86 76.9,243.98 77.15,244.17 77.4,244.41 77.65,244.64 77.9,244.81 78.15,244.89 78.4,244.86 78.65,244.73 78.9,244.51 79.15,244.25 79.4,244 79.65,243.81 79.9,243.71 80.15,243.71 80.4,243.82 80.65,244 80.9,244.21 81.15,244.41 81.4,244.54 81.65,244.58 81.9,244.53 82.15,244.39 82.4,244.19 82.65,243.98 82.9,243.8 83.15,243.7 83.4,243.7 83.65,243.8 83.9,243.99 84.15,244.24 84.4,244.49 84.65,244.7 84.9,244.83 85.15,244.84 85.4,244.76 85.65,244.58 85.9,244.35 86.15,244.12 86.4,243.93 86.65,243.82 86.9,243.81 87.15,243.9 87.4,244.06 87.65,244.26 87.9,244.44 88.15,244.57 88.4,244.61 88.65,244.55 88.9,244.4 89.15,244.19 89.4,243.95 89.65,243.73 89.9,243.59 90.15,243.55 90.4,243.62 90.65,243.79 90.9,244.02 91.15,244.27 91.4,244.5 91.65,244.65 91.9,244.71 92.15,244.66 92.4,244.52 92.65,244.32 92.9,244.11 93.15,243.94 93.4,243.84 93.65,243.83 93.9,243.92 94.15,244.09 94.4,244.3 94.65,244.5 94.9,244.65 95.15,244.71 95.4,244.67 95.65,244.53 95.9,244.3 96.15,244.05 96.4,243.8 96.65,243.62 96.9,243.53 97.15,243.55 97.4,243.68 97.65,243.87 97.9,244.1 98.15,244.32 98.4,244.47 98.65,244.54 98.9,244.51 99.15,244.38 99.4,244.2 99.65,244 99.9,243.83 100.15,243.73 100.4,243.72 100.65,243.82 100.9,244 101.15,244.24 101.4,244.47 101.65,244.66 101.9,244.76 102.15,244.76 102.4,244.65 102.65,244.45 102.9,244.2 103.15,243.95 103.4,243.75 103.65,243.63 103.9,243.61 104.15,243.7 104.4,243.86 104.65,244.06 104.9,244.26 105.15,244.4 105.4,244.46 105.65,244.43 105.9,244.29 106.15,244.1 106.4,243.88 106.65,243.69 106.9,243.57 107.15,243.55 107.4,243.63 107.65,243.81 107.9,244.05 108.15,244.3 108.4,244.53 108.65,244.68 108.9,244.73 109.15,244.67 109.4,244.51 109.65,244.3 109.9,244.07 110.15,243.88 110.4,243.76 110.65,243.73 110.9,243.81 111.15,243.96 111.4,244.16 111.65,244.35 111.9,244.5 112.15,244.56 112.4,244.52 112.65,244.39 112.9,244.18 113.15,243.94 113.4,243.72 113.65,243.56 113.9,243.49 114.15,243.54 114.4,243.68 114.65,243.91 114.9,244.16 115.15,244.4 115.4,244.57 115.65,244.65 115.9,244.62 116.15,244.5 116.4,244.32 116.65,244.12 116.9,243.94 117.15,243.83 117.4,243.81 117.65,243.89 117.9,244.05 118.15,244.26 118.4,244.48 118.65,244.65 118.9,244.73 119.15,244.72 119.4,244.59 119.65,244.39 119.9,244.14 120.15,243.89 120.4,243.69 120.65,243.58 120.9,243.58 121.15,243.68 121.4,243.86 121.65,244.09 121.9,244.31 122.15,244.48 122.4,244.56 122.65,244.55 122.9,244.44 123.15,244.27 123.4,244.07 123.65,243.89 123.9,243.78 124.15,243.76 124.4,243.84 124.65,244.02 124.9,244.25 125.15,244.49 125.4,244.7 125.65,244.83 125.9,244.86 126.15,244.77 126.4,244.6 126.65,244.36 126.9,244.11 127.15,243.9 127.4,243.77 127.65,243.73 127.9,243.8 128.15,243.95 128.4,244.15 128.65,244.35 128.9,244.51 129.15,244.59 129.4,244.57 129.65,244.45 129.9,244.26 130.15,244.05 130.4,243.85 130.65,243.71 130.9,243.66 131.15,243.72 131.4,243.89 131.65,244.12 131.9,244.38 132.15,244.62 132.4,244.79 132.65,244.86 132.9,244.82 133.15,244.69 133.4,244.49 133.65,244.27 133.9,244.07 134.15,243.93 134.4,243.89 134.65,243.95 134.9,244.09 135.15,244.29 135.4,244.49 135.65,244.65 135.9,244.73 136.15,244.71 136.4,244.59 136.65,244.39 136.9,244.15 137.15,243.91 137.4,243.73 137.65,243.64 137.9,243.66 138.15,243.79 138.4,243.99 138.65,244.24 138.9,244.48 139.15,244.67 139.4,244.77 139.65,244.76 139.9,244.66 140.15,244.49 140.4,244.29 140.65,244.11 140.9,243.99 141.15,243.96 141.4,244.03 141.65,244.18 141.9,244.4 142.15,244.62 142.4,244.81 142.65,244.92 142.9,244.93 143.15,244.83 143.4,244.65 143.65,244.4 143.9,244.15 144.15,243.94 144.4,243.81 144.65,243.79 144.9,243.87 145.15,244.04 145.4,244.26 145.65,244.48 145.9,244.66 146.15,244.76 146.4,244.77 146.65,244.68 146.9,244.51 147.15,244.32 147.4,244.13 147.65,244.01 147.9,243.97 148.15,244.04 148.4,244.2 148.65,244.43 148.9,244.68 149.15,244.91 149.4,245.07 149.65,245.12 149.9,245.07 150.15,244.91 150.4,244.69 150.65,244.45 150.9,244.24 151.15,244.09 151.4,244.04 151.65,244.09 151.9,244.23 152.15,244.42 152.4,244.63 152.65,244.79 152.9,244.89 153.15,244.89 153.4,244.79 153.65,244.61 153.9,244.39 154.15,244.18 154.4,244.03 154.65,243.96 154.9,244 155.15,244.15 155.4,244.37 155.65,244.63 155.9,244.88 156.15,245.08 156.4,245.17 156.65,245.17 156.9,245.06 157.15,244.87 157.4,244.66 157.65,244.46 157.9,244.32 158.15,244.26 158.4,244.31 158.65,244.44 158.9,244.64 159.15,244.84 159.4,245.02 159.65,245.12 159.9,245.12 160.15,245.02 160.4,244.84 160.65,244.6 160.9,244.36 161.15,244.16 161.4,244.05 161.65,244.05 161.9,244.15 162.15,244.34 162.4,244.58 162.65,244.83 162.9,245.03 163.15,245.15 163.4,245.17 163.65,245.09 163.9,244.93 164.15,244.73 164.4,244.55 164.65,244.42 164.9,244.37 165.15,244.42 165.4,244.57 165.65,244.78 165.9,245.01 166.15,245.21 166.4,245.35 166.65,245.38 166.9,245.31 167.15,245.14 167.4,244.9 167.65,244.65 167.9,244.43 168.15,244.28 168.4,244.23 168.65,244.28 168.9,244.43 169.15,244.64 169.4,244.87 169.65,245.05 169.9,245.17 170.15,245.19 170.4,245.11 170.65,244.96 170.9,244.76 171.15,244.57 171.4,244.43 171.65,244.37 171.9,244.42 172.15,244.57 172.4,244.79 172.65,245.04 172.9,245.28 173.15,245.46 173.4,245.54 173.65,245.51 173.9,245.38 174.15,245.18 174.4,244.94 174.65,244.72 174.9,244.56 175.15,244.48 175.4,244.52 175.65,244.64 175.9,244.83 176.15,245.03 176.4,245.21 176.65,245.32 176.9,245.33 177.15,245.25 177.4,245.08 177.65,244.86 177.9,244.64 178.15,244.47 178.4,244.38 178.65,244.39" fill="none" stroke="#f22c2c" stroke-width="1.45" stroke-linejoin="round"/>
<rect x="28.6" y="155.6" width="150.6" height="113.2" fill="none" stroke="#575757" stroke-width="1.3"/>
<text x="26.3" y="271.4" text-anchor="end" style="font-size:7.6px;font-weight:bold;font-family:'Liberation Serif',serif" fill="#111" stroke="#111" stroke-width="0.22" >0</text>
<line x1="28.6" y1="243.73" x2="30.8" y2="243.73" stroke="#333" stroke-width="0.9"/>
<text x="26.3" y="246.33" text-anchor="end" style="font-size:7.6px;font-weight:bold;font-family:'Liberation Serif',serif" fill="#111" stroke="#111" stroke-width="0.22" >20</text>
<line x1="28.6" y1="218.65" x2="30.8" y2="218.65" stroke="#333" stroke-width="0.9"/>
<text x="26.3" y="221.25" text-anchor="end" style="font-size:7.6px;font-weight:bold;font-family:'Liberation Serif',serif" fill="#111" stroke="#111" stroke-width="0.22" >40</text>
<line x1="28.6" y1="193.57" x2="30.8" y2="193.57" stroke="#333" stroke-width="0.9"/>
<text x="26.3" y="196.17" text-anchor="end" style="font-size:7.6px;font-weight:bold;font-family:'Liberation Serif',serif" fill="#111" stroke="#111" stroke-width="0.22" >60</text>
<line x1="28.6" y1="168.5" x2="30.8" y2="168.5" stroke="#333" stroke-width="0.9"/>
<text x="26.3" y="171.1" text-anchor="end" style="font-size:7.6px;font-weight:bold;font-family:'Liberation Serif',serif" fill="#111" stroke="#111" stroke-width="0.22" >80</text>
<line x1="57.29" y1="268.8" x2="57.29" y2="271.0" stroke="#333" stroke-width="0.9"/>
<text x="57.29" y="278.6" text-anchor="middle" style="font-size:7.6px;font-weight:bold;font-family:'Liberation Serif',serif" fill="#111" stroke="#111" stroke-width="0.22" >9</text>
<line x1="93.14" y1="268.8" x2="93.14" y2="271.0" stroke="#333" stroke-width="0.9"/>
<text x="93.14" y="278.6" text-anchor="middle" style="font-size:7.6px;font-weight:bold;font-family:'Liberation Serif',serif" fill="#111" stroke="#111" stroke-width="0.22" >10</text>
<line x1="129" y1="268.8" x2="129" y2="271.0" stroke="#333" stroke-width="0.9"/>
<text x="129" y="278.6" text-anchor="middle" style="font-size:7.6px;font-weight:bold;font-family:'Liberation Serif',serif" fill="#111" stroke="#111" stroke-width="0.22" >11</text>
<line x1="164.86" y1="268.8" x2="164.86" y2="271.0" stroke="#333" stroke-width="0.9"/>
<text x="164.86" y="278.6" text-anchor="middle" style="font-size:7.6px;font-weight:bold;font-family:'Liberation Serif',serif" fill="#111" stroke="#111" stroke-width="0.22" >12</text>
<text x="103.9" y="290.8" text-anchor="middle" style="font-size:7.9px;font-weight:bold;font-family:'Liberation Serif',serif" fill="#111" stroke="#111" stroke-width="0.22" >Frequency/GHz</text>
<text transform="translate(13.7,212.2) rotate(-90)" text-anchor="middle" style="font-size:7.6px;font-weight:bold;font-family:'Liberation Serif',serif" fill="#111" stroke="#111" stroke-width="0.2">EMI/dB</text>
<text x="47.7" y="205.3" text-anchor="start" style="font-size:10.4px;font-weight:bold;font-family:'Liberation Serif',serif" fill="#111" stroke="#111" stroke-width="0.22" >PSA@Ni@Ag</text>
<rect x="55.2" y="206.9" width="42.6" height="28" fill="#d2cce4"/>
<rect x="55.2" y="206.9" width="42.6" height="14.84" fill="#bb9c5e"/>
<rect x="59.034000000000006" y="206.9" width="31.737000000000002" height="14.84" fill="#d3e2dc"/>
<rect x="59.034000000000006" y="206.9" width="31.737000000000002" height="14.84" fill="url(#hatch)"/>
<rect x="59.034000000000006" y="206.9" width="31.737000000000002" height="14.84" fill="url(#hatch2)"/>
<line x1="57.7" y1="222.04" x2="57.7" y2="224.34" stroke="#8a86a0" stroke-width="0.35"/>
<line x1="60.6" y1="222.04" x2="60.6" y2="223.34" stroke="#8a86a0" stroke-width="0.35"/>
<line x1="63.5" y1="222.04" x2="63.5" y2="224.34" stroke="#8a86a0" stroke-width="0.35"/>
<line x1="66.4" y1="222.04" x2="66.4" y2="223.34" stroke="#8a86a0" stroke-width="0.35"/>
<line x1="69.3" y1="222.04" x2="69.3" y2="224.34" stroke="#8a86a0" stroke-width="0.35"/>
<line x1="72.2" y1="222.04" x2="72.2" y2="223.34" stroke="#8a86a0" stroke-width="0.35"/>
<line x1="75.1" y1="222.04" x2="75.1" y2="224.34" stroke="#8a86a0" stroke-width="0.35"/>
<line x1="78" y1="222.04" x2="78" y2="223.34" stroke="#8a86a0" stroke-width="0.35"/>
<line x1="80.9" y1="222.04" x2="80.9" y2="224.34" stroke="#8a86a0" stroke-width="0.35"/>
<line x1="83.8" y1="222.04" x2="83.8" y2="223.34" stroke="#8a86a0" stroke-width="0.35"/>
<line x1="86.7" y1="222.04" x2="86.7" y2="224.34" stroke="#8a86a0" stroke-width="0.35"/>
<line x1="89.6" y1="222.04" x2="89.6" y2="223.34" stroke="#8a86a0" stroke-width="0.35"/>
<line x1="92.5" y1="222.04" x2="92.5" y2="224.34" stroke="#8a86a0" stroke-width="0.35"/>
<line x1="95.4" y1="222.04" x2="95.4" y2="223.34" stroke="#8a86a0" stroke-width="0.35"/>
<text x="59.2" y="228.74" style="font-size:3.6px;font-family:'Liberation Serif',serif" fill="#55526a">0</text>
<text x="70.2" y="228.74" style="font-size:3.6px;font-family:'Liberation Serif',serif" fill="#55526a">1</text>
<text x="81.2" y="228.74" style="font-size:3.6px;font-family:'Liberation Serif',serif" fill="#55526a">2</text>
<text x="92.2" y="228.74" style="font-size:3.6px;font-family:'Liberation Serif',serif" fill="#55526a">3</text>
<path d="M65.2,229.24 q3,3 7,2.5 q4,-0.5 6,3 q2,2.5 5,2" fill="none" stroke="#9fb0d8" stroke-width="0.6"/>
<rect x="135.1" y="203" width="27.7" height="26.4" fill="#fff" stroke="#aaa" stroke-width="0.6"/>
<line x1="135.6" y1="207" x2="150.6" y2="207" stroke="#3c3c3c" stroke-width="1.6"/>
<text x="151.6" y="209.3" style="font-size:6.6px;font-family:'Liberation Serif',serif" fill="#222">SE<tspan dy="1.6" style="font-size:4.3px">T</tspan></text>
<line x1="135.6" y1="215.7" x2="150.6" y2="215.7" stroke="#f44848" stroke-width="1.6"/>
<text x="151.6" y="218" style="font-size:6.6px;font-family:'Liberation Serif',serif" fill="#222">SE<tspan dy="1.6" style="font-size:4.3px">R</tspan></text>
<line x1="135.6" y1="224.4" x2="150.6" y2="224.4" stroke="#1464ee" stroke-width="1.6"/>
<text x="151.6" y="226.7" style="font-size:6.6px;font-family:'Liberation Serif',serif" fill="#222">SE<tspan dy="1.6" style="font-size:4.3px">A</tspan></text>
<text x="183" y="163" style="font-size:17.2px;font-family:'Liberation Serif',serif" fill="#111" stroke="#111" stroke-width="0.25">(e)</text>
<polyline points="209.2,163.36 209.45,163.35 209.7,163.32 209.95,163.26 210.2,163.19 210.45,163.1 210.7,163.01 210.95,162.92 211.2,162.85 211.45,162.81 211.7,162.79 211.95,162.8 212.2,162.85 212.45,162.92 212.7,163.02 212.95,163.12 213.2,163.23 213.45,163.33 213.7,163.41 213.95,163.48 214.2,163.52 214.45,163.55 214.7,163.56 214.95,163.56 215.2,163.55 215.45,163.55 215.7,163.57 215.95,163.59 216.2,163.62 216.45,163.67 216.7,163.72 216.95,163.77 217.2,163.81 217.45,163.83 217.7,163.84 217.95,163.83 218.2,163.79 218.45,163.74 218.7,163.68 218.95,163.61 219.2,163.55 219.45,163.51 219.7,163.49 219.95,163.5 220.2,163.54 220.45,163.6 220.7,163.69 220.95,163.79 221.2,163.89 221.45,163.98 221.7,164.06 221.95,164.12 222.2,164.16 222.45,164.16 222.7,164.15 222.95,164.11 223.2,164.07 223.45,164.02 223.7,163.98 223.95,163.95 224.2,163.94 224.45,163.94 224.7,163.95 224.95,163.97 225.2,163.99 225.45,164.01 225.7,164.03 225.95,164.02 226.2,164.01 226.45,163.98 226.7,163.94 226.95,163.89 227.2,163.85 227.45,163.83 227.7,163.82 227.95,163.84 228.2,163.89 228.45,163.97 228.7,164.07 228.95,164.19 229.2,164.32 229.45,164.45 229.7,164.57 229.95,164.67 230.2,164.74 230.45,164.78 230.7,164.79 230.95,164.78 231.2,164.75 231.45,164.7 231.7,164.65 231.95,164.61 232.2,164.58 232.45,164.56 232.7,164.56 232.95,164.57 233.2,164.59 233.45,164.61 233.7,164.62 233.95,164.63 234.2,164.62 234.45,164.6 234.7,164.56 234.95,164.52 235.2,164.47 235.45,164.43 235.7,164.39 235.95,164.38 236.2,164.4 236.45,164.44 236.7,164.5 236.95,164.59 237.2,164.69 237.45,164.79 237.7,164.89 237.95,164.98 238.2,165.04 238.45,165.08 238.7,165.09 238.95,165.07 239.2,165.03 239.45,164.97 239.7,164.91 239.95,164.85 240.2,164.81 240.45,164.78 240.7,164.77 240.95,164.79 241.2,164.82 241.45,164.86 241.7,164.91 241.95,164.96 242.2,165.01 242.45,165.04 242.7,165.06 242.95,165.07 243.2,165.06 243.45,165.06 243.7,165.06 243.95,165.06 244.2,165.09 244.45,165.13 244.7,165.2 244.95,165.28 245.2,165.38 245.45,165.48 245.7,165.58 245.95,165.67 246.2,165.73 246.45,165.77 246.7,165.78 246.95,165.75 247.2,165.69 247.45,165.62 247.7,165.53 247.95,165.43 248.2,165.35 248.45,165.28 248.7,165.23 248.95,165.21 249.2,165.21 249.45,165.23 249.7,165.26 249.95,165.31 250.2,165.35 250.45,165.39 250.7,165.42 250.95,165.44 251.2,165.45 251.45,165.45 251.7,165.45 251.95,165.45 252.2,165.47 252.45,165.5 252.7,165.55 252.95,165.62 253.2,165.71 253.45,165.81 253.7,165.92 253.95,166.02 254.2,166.11 254.45,166.17 254.7,166.21 254.95,166.22 255.2,166.2 255.45,166.16 255.7,166.09 255.95,166.02 256.2,165.96 256.45,165.9 256.7,165.86 256.95,165.85 257.2,165.86 257.45,165.89 257.7,165.95 257.95,166.02 258.2,166.09 258.45,166.16 258.7,166.22 258.95,166.26 259.2,166.29 259.45,166.31 259.7,166.31 259.95,166.3 260.2,166.3 260.45,166.3 260.7,166.31 260.95,166.34 261.2,166.38 261.45,166.44 261.7,166.5 261.95,166.56 262.2,166.61 262.45,166.65 262.7,166.67 262.95,166.66 263.2,166.63 263.45,166.57 263.7,166.49 263.95,166.4 264.2,166.32 264.45,166.24 264.7,166.18 264.95,166.15 265.2,166.15 265.45,166.18 265.7,166.24 265.95,166.32 266.2,166.42 266.45,166.52 266.7,166.61 266.95,166.7 267.2,166.78 267.45,166.83 267.7,166.87 267.95,166.9 268.2,166.91 268.45,166.93 268.7,166.95 268.95,166.98 269.2,167.02 269.45,167.07 269.7,167.14 269.95,167.2 270.2,167.27 270.45,167.32 270.7,167.36 270.95,167.37 271.2,167.36 271.45,167.32 271.7,167.26 271.95,167.18 272.2,167.1 272.45,167.01 272.7,166.94 272.95,166.89 273.2,166.87 273.45,166.88 273.7,166.91 273.95,166.97 274.2,167.05 274.45,167.14 274.7,167.23 274.95,167.31 275.2,167.38 275.45,167.43 275.7,167.45 275.95,167.46 276.2,167.45 276.45,167.44 276.7,167.42 276.95,167.41 277.2,167.41 277.45,167.42 277.7,167.45 277.95,167.49 278.2,167.53 278.45,167.58 278.7,167.62 278.95,167.65 279.2,167.66 279.45,167.65 279.7,167.62 279.95,167.57 280.2,167.52 280.45,167.47 280.7,167.42 280.95,167.4 281.2,167.39 281.45,167.42 281.7,167.48 281.95,167.56 282.2,167.67 282.45,167.79 282.7,167.91 282.95,168.03 283.2,168.14 283.45,168.22 283.7,168.28 283.95,168.3 284.2,168.31 284.45,168.29 284.7,168.27 284.95,168.24 285.2,168.2 285.45,168.16 285.7,168.14 285.95,168.13 286.2,168.13 286.45,168.14 286.7,168.14 286.95,168.14 287.2,168.13 287.45,168.1 287.7,168.06 287.95,168 288.2,167.92 288.45,167.85 288.7,167.77 288.95,167.71 289.2,167.67 289.45,167.66 289.7,167.67 289.95,167.72 290.2,167.79 290.45,167.89 290.7,167.99 290.95,168.1 291.2,168.2 291.45,168.28 291.7,168.34 291.95,168.37 292.2,168.38 292.45,168.36 292.7,168.33 292.95,168.29 293.2,168.24 293.45,168.21 293.7,168.18 293.95,168.17 294.2,168.18 294.45,168.2 294.7,168.23 294.95,168.26 295.2,168.29 295.45,168.3 295.7,168.3 295.95,168.29 296.2,168.26 296.45,168.22 296.7,168.18 296.95,168.14 297.2,168.11 297.45,168.1 297.7,168.11 297.95,168.15 298.2,168.21 298.45,168.29 298.7,168.38 298.95,168.48 299.2,168.56 299.45,168.63 299.7,168.68 299.95,168.7 300.2,168.69 300.45,168.65 300.7,168.58 300.95,168.5 301.2,168.42 301.45,168.33 301.7,168.26 301.95,168.2 302.2,168.16 302.45,168.15 302.7,168.15 302.95,168.16 303.2,168.18 303.45,168.2 303.7,168.22 303.95,168.23 304.2,168.22 304.45,168.21 304.7,168.19 304.95,168.17 305.2,168.15 305.45,168.15 305.7,168.17 305.95,168.21 306.2,168.28 306.45,168.37 306.7,168.47 306.95,168.58 307.2,168.69 307.45,168.79 307.7,168.87 307.95,168.92 308.2,168.94 308.45,168.93 308.7,168.89 308.95,168.83 309.2,168.75 309.45,168.67 309.7,168.6 309.95,168.53 310.2,168.49 310.45,168.46 310.7,168.46 310.95,168.47 311.2,168.5 311.45,168.53 311.7,168.56 311.95,168.58 312.2,168.59 312.45,168.58 312.7,168.56 312.95,168.54 313.2,168.51 313.45,168.48 313.7,168.47 313.95,168.47 314.2,168.49 314.45,168.53 314.7,168.59 314.95,168.66 315.2,168.74 315.45,168.81 315.7,168.86 315.95,168.9 316.2,168.91 316.45,168.9 316.7,168.85 316.95,168.79 317.2,168.7 317.45,168.61 317.7,168.53 317.95,168.46 318.2,168.4 318.45,168.38 318.7,168.38 318.95,168.41 319.2,168.46 319.45,168.52 319.7,168.59 319.95,168.66 320.2,168.73 320.45,168.77 320.7,168.81 320.95,168.83 321.2,168.84 321.45,168.84 321.7,168.85 321.95,168.86 322.2,168.89 322.45,168.93 322.7,168.99 322.95,169.06 323.2,169.14 323.45,169.22 323.7,169.28 323.95,169.33 324.2,169.35 324.45,169.34 324.7,169.31 324.95,169.25 325.2,169.16 325.45,169.06 325.7,168.96 325.95,168.87 326.2,168.79 326.45,168.74 326.7,168.72 326.95,168.72 327.2,168.75 327.45,168.8 327.7,168.87 327.95,168.95 328.2,169.02 328.45,169.08 328.7,169.12 328.95,169.16 329.2,169.17 329.45,169.18 329.7,169.18 329.95,169.18 330.2,169.19 330.45,169.21 330.7,169.25 330.95,169.3 331.2,169.36 331.45,169.43 331.7,169.5 331.95,169.56 332.2,169.61 332.45,169.63 332.7,169.63 332.95,169.61 333.2,169.56 333.45,169.5 333.7,169.43 333.95,169.36 334.2,169.31 334.45,169.27 334.7,169.26 334.95,169.29 335.2,169.33 335.45,169.41 335.7,169.5 335.95,169.6 336.2,169.7 336.45,169.79 336.7,169.86 336.95,169.91 337.2,169.94 337.45,169.95 337.7,169.94 337.95,169.92 338.2,169.9 338.45,169.88 338.7,169.87 338.95,169.87 339.2,169.88 339.45,169.91 339.7,169.93 339.95,169.96 340.2,169.98 340.45,169.99 340.7,169.97 340.95,169.94 341.2,169.88 341.45,169.81 341.7,169.73 341.95,169.66 342.2,169.59 342.45,169.54 342.7,169.51 342.95,169.52 343.2,169.56 343.45,169.63 343.7,169.73 343.95,169.84 344.2,169.96 344.45,170.08 344.7,170.18 344.95,170.27 345.2,170.33 345.45,170.37 345.7,170.39 345.95,170.39 346.2,170.38 346.45,170.37 346.7,170.36 346.95,170.36 347.2,170.37 347.45,170.4 347.7,170.43 347.95,170.47 348.2,170.5 348.45,170.53 348.7,170.55 348.95,170.54 349.2,170.52 349.45,170.48 349.7,170.42 349.95,170.36 350.2,170.3 350.45,170.24 350.7,170.21 350.95,170.2 351.2,170.21 351.45,170.26 351.7,170.33 351.95,170.42 352.2,170.52 352.45,170.62 352.7,170.71 352.95,170.79 353.2,170.84 353.45,170.86 353.7,170.85 353.95,170.83 354.2,170.79 354.45,170.74 354.7,170.68 354.95,170.64 355.2,170.61 355.45,170.59 355.7,170.6 355.95,170.62 356.2,170.64 356.45,170.67 356.7,170.7 356.95,170.72 357.2,170.73 357.45,170.73 357.7,170.71 357.95,170.68 358.2,170.66 358.45,170.63 358.7,170.62 358.95,170.64 359.2,170.67 359.45,170.73 359.7,170.82" fill="none" stroke="#3c3c3c" stroke-width="1.45" stroke-linejoin="round"/>
<polyline points="209.2,188.81 209.45,189.31 209.7,189.7 209.95,189.89 210.2,189.87 210.45,189.64 210.7,189.28 210.95,188.87 211.2,188.51 211.45,188.3 211.7,188.29 211.95,188.48 212.2,188.84 212.45,189.29 212.7,189.73 212.95,190.07 213.2,190.22 213.45,190.16 213.7,189.89 213.95,189.47 214.2,188.99 214.45,188.56 214.7,188.26 214.95,188.17 215.2,188.3 215.45,188.62 215.7,189.07 215.95,189.54 216.2,189.94 216.45,190.18 216.7,190.22 216.95,190.05 217.2,189.73 217.45,189.34 217.7,188.97 217.95,188.72 218.2,188.67 218.45,188.83 218.7,189.19 218.95,189.68 219.2,190.2 219.45,190.66 219.7,190.96 219.95,191.05 220.2,190.91 220.45,190.6 220.7,190.17 220.95,189.75 221.2,189.41 221.45,189.25 221.7,189.29 221.95,189.54 222.2,189.92 222.45,190.37 222.7,190.76 222.95,191.03 223.2,191.09 223.45,190.94 223.7,190.61 223.95,190.16 224.2,189.7 224.45,189.34 224.7,189.14 224.95,189.16 225.2,189.4 225.45,189.81 225.7,190.31 225.95,190.79 226.2,191.16 226.45,191.35 226.7,191.32 226.95,191.1 227.2,190.75 227.45,190.36 227.7,190.04 227.95,189.86 228.2,189.89 228.45,190.12 228.7,190.53 228.95,191.02 229.2,191.51 229.45,191.89 229.7,192.08 229.95,192.05 230.2,191.81 230.45,191.42 230.7,190.95 230.95,190.53 231.2,190.23 231.45,190.13 231.7,190.25 231.95,190.55 232.2,190.97 232.45,191.4 232.7,191.76 232.95,191.96 233.2,191.95 233.45,191.72 233.7,191.35 233.95,190.9 234.2,190.48 234.45,190.19 234.7,190.1 234.95,190.23 235.2,190.56 235.45,191.03 235.7,191.54 235.95,192 236.2,192.3 236.45,192.4 236.7,192.29 236.95,192 237.2,191.6 237.45,191.21 237.7,190.91 237.95,190.78 238.2,190.86 238.45,191.14 238.7,191.55 238.95,192.02 239.2,192.44 239.45,192.71 239.7,192.78 239.95,192.63 240.2,192.28 240.45,191.82 240.7,191.34 240.95,190.94 241.2,190.7 241.45,190.68 241.7,190.87 241.95,191.23 242.2,191.67 242.45,192.09 242.7,192.41 242.95,192.54 243.2,192.47 243.45,192.2 243.7,191.81 243.95,191.39 244.2,191.04 244.45,190.85 244.7,190.86 244.95,191.1 245.2,191.51 245.45,192.01 245.7,192.52 245.95,192.92 246.2,193.15 246.45,193.15 246.7,192.94 246.95,192.58 247.2,192.15 247.45,191.76 247.7,191.49 247.95,191.42 248.2,191.55 248.45,191.87 248.7,192.29 248.95,192.72 249.2,193.07 249.45,193.25 249.7,193.22 249.95,192.98 250.2,192.57 250.45,192.09 250.7,191.63 250.95,191.3 251.2,191.16 251.45,191.24 251.7,191.53 251.95,191.96 252.2,192.43 252.45,192.85 252.7,193.13 252.95,193.21 253.2,193.08 253.45,192.78 253.7,192.38 253.95,192 254.2,191.71 254.45,191.61 254.7,191.71 254.95,192.02 255.2,192.48 255.45,192.99 255.7,193.45 255.95,193.77 256.2,193.89 256.45,193.78 256.7,193.47 256.95,193.04 257.2,192.59 257.45,192.21 257.7,191.99 257.95,191.97 258.2,192.17 258.45,192.52 258.7,192.94 258.95,193.35 259.2,193.63 259.45,193.73 259.7,193.62 259.95,193.31 260.2,192.86 260.45,192.38 260.7,191.97 260.95,191.72 261.2,191.68 261.45,191.86 261.7,192.23 261.95,192.7 262.2,193.18 262.45,193.56 262.7,193.77 262.95,193.76 263.2,193.56 263.45,193.2 263.7,192.79 263.95,192.41 264.2,192.17 264.45,192.13 264.7,192.29 264.95,192.63 265.2,192.99 265.45,193.19 265.7,193.34 265.95,193.43 266.2,193.42 266.45,193.32 266.7,193.15 266.95,192.95 267.2,192.75 267.45,192.6 267.7,192.53 267.95,192.55 268.2,192.65 268.45,192.81 268.7,192.99 268.95,193.14 269.2,193.23 269.45,193.24 269.7,193.16 269.95,193.01 270.2,192.82 270.45,192.64 270.7,192.5 270.95,192.44 271.2,192.47 271.45,192.6 271.7,192.78 271.95,193 272.2,193.19 272.45,193.33 272.7,193.39 272.95,193.35 273.2,193.23 273.45,193.06 273.7,192.88 273.95,192.74 274.2,192.66 274.45,192.66 274.7,192.75 274.95,192.91 275.2,193.1 275.45,193.27 275.7,193.39 275.95,193.43 276.2,193.38 276.45,193.24 276.7,193.04 276.95,192.83 277.2,192.65 277.45,192.53 277.7,192.49 277.95,192.55 278.2,192.69 278.45,192.87 278.7,193.05 278.95,193.2 279.2,193.27 279.45,193.25 279.7,193.15 279.95,192.99 280.2,192.81 280.45,192.65 280.7,192.55 280.95,192.53 281.2,192.61 281.45,192.77 281.7,192.97 281.95,193.18 282.2,193.36 282.45,193.46 282.7,193.47 282.95,193.39 283.2,193.24 283.45,193.05 283.7,192.87 283.95,192.73 284.2,192.67 284.45,192.7 284.7,192.81 284.95,192.98 285.2,193.16 285.45,193.31 285.7,193.39 285.95,193.39 286.2,193.3 286.45,193.13 286.7,192.93 286.95,192.73 287.2,192.57 287.45,192.49 287.7,192.5 287.95,192.61 288.2,192.78 288.45,192.97 288.7,193.16 288.95,193.28 289.2,193.33 289.45,193.29 289.7,193.17 289.95,193 290.2,192.83 290.45,192.69 290.7,192.62 290.95,192.64 291.2,192.74 291.45,192.92 291.7,193.12 291.95,193.31 292.2,193.45 292.45,193.51 292.7,193.47 292.95,193.34 293.2,193.16 293.45,192.95 293.7,192.77 293.95,192.65 294.2,192.62 294.45,192.68 294.7,192.8 294.95,192.97 295.2,193.14 295.45,193.27 295.7,193.32 295.95,193.29 296.2,193.17 296.45,192.99 296.7,192.79 296.95,192.61 297.2,192.49 297.45,192.45 297.7,192.52 297.95,192.66 298.2,192.86 298.45,193.06 298.7,193.24 298.95,193.34 299.2,193.36 299.45,193.29 299.7,193.14 299.95,192.97 300.2,192.8 300.45,192.68 300.7,192.64 300.95,192.69 301.2,192.82 301.45,193 301.7,193.19 301.95,193.35 302.2,193.45 302.45,193.46 302.7,193.37 302.95,193.21 303.2,193 303.45,192.79 303.7,192.63 303.95,192.53 304.2,192.54 304.45,192.62 304.7,192.78 304.95,192.95 305.2,193.12 305.45,193.23 305.7,193.25 305.95,193.19 306.2,193.06 306.45,192.88 306.7,192.69 306.95,192.54 307.2,192.46 307.45,192.48 307.7,192.59 307.95,192.76 308.2,192.97 308.45,193.18 308.7,193.33 308.95,193.4 309.2,193.37 309.45,193.27 309.7,193.1 309.95,192.92 310.2,192.75 310.45,192.65 310.7,192.64 310.95,192.7 311.2,192.85 311.45,193.02 311.7,193.2 311.95,193.33 312.2,193.38 312.45,193.35 312.7,193.22 312.95,193.03 313.2,192.82 313.45,192.62 313.7,192.48 313.95,192.43 314.2,192.48 314.45,192.6 314.7,192.78 314.95,192.97 315.2,193.12 315.45,193.21 315.7,193.22 315.95,193.14 316.2,192.99 316.45,192.81 316.7,192.64 316.95,192.53 317.2,192.49 317.45,192.55 317.7,192.69 317.95,192.88 318.2,193.09 318.45,193.28 318.7,193.39 318.95,193.42 319.2,193.35 319.45,193.2 319.7,193.01 319.95,192.82 320.2,192.67 320.45,192.59 320.7,192.59 320.95,192.68 321.2,192.84 321.45,193.01 321.7,193.17 321.95,193.27 322.2,193.3 322.45,193.24 322.7,193.1 322.95,192.92 323.2,192.73 323.45,192.57 323.7,192.5 323.95,192.51 324.2,192.61 324.45,192.79 324.7,193.01 324.95,193.21 325.2,193.38 325.45,193.46 325.7,193.45 325.95,193.36 326.2,193.22 326.45,193.06 326.7,192.93 326.95,192.86 327.2,192.87 327.45,192.97 327.7,193.15 327.95,193.36 328.2,193.57 328.45,193.74 328.7,193.83 328.95,193.82 329.2,193.72 329.45,193.56 329.7,193.36 329.95,193.19 330.2,193.07 330.45,193.03 330.7,193.08 330.95,193.21 331.2,193.39 331.45,193.58 331.7,193.74 331.95,193.83 332.2,193.83 332.45,193.74 332.7,193.59 332.95,193.41 333.2,193.24 333.45,193.13 333.7,193.1 333.95,193.16 334.2,193.31 334.45,193.52 334.7,193.74 334.95,193.94 335.2,194.08 335.45,194.13 335.7,194.09 335.95,193.98 336.2,193.82 336.45,193.66 336.7,193.54 336.95,193.5 337.2,193.54 337.45,193.67 337.7,193.85 337.95,194.06 338.2,194.24 338.45,194.37 338.7,194.4 338.95,194.35 339.2,194.21 339.45,194.02 339.7,193.83 339.95,193.67 340.2,193.58 340.45,193.57 340.7,193.66 340.95,193.82 341.2,194.02 341.45,194.21 341.7,194.35 341.95,194.41 342.2,194.39 342.45,194.29 342.7,194.13 342.95,193.96 343.2,193.82 343.45,193.75 343.7,193.76 343.95,193.87 344.2,194.05 344.45,194.28 344.7,194.5 344.95,194.68 345.2,194.78 345.45,194.79 345.7,194.71 345.95,194.57 346.2,194.39 346.45,194.24 346.7,194.13 346.95,194.11 347.2,194.17 347.45,194.32 347.7,194.5 347.95,194.7 348.2,194.85 348.45,194.94 348.7,194.93 348.95,194.84 349.2,194.67 349.45,194.48 349.7,194.29 349.95,194.16 350.2,194.11 350.45,194.16 350.7,194.3 350.95,194.49 351.2,194.7 351.45,194.89 351.7,195.02 351.95,195.07 352.2,195.03 352.45,194.91 352.7,194.76 352.95,194.61 353.2,194.5 353.45,194.47 353.7,194.53 353.95,194.67 354.2,194.88 354.45,195.11 354.7,195.32 354.95,195.46 355.2,195.53 355.45,195.49 355.7,195.38 355.95,195.21 356.2,195.03 356.45,194.88 356.7,194.8 356.95,194.81 357.2,194.9 357.45,195.06 357.7,195.26 357.95,195.44 358.2,195.57 358.45,195.63 358.7,195.59 358.95,195.48 359.2,195.31 359.45,195.12 359.7,194.97" fill="none" stroke="#1464ee" stroke-width="1.45" stroke-linejoin="round"/>
<polyline points="209.2,246.53 209.45,246.41 209.7,246.23 209.95,246.02 210.2,245.84 210.45,245.73 210.7,245.71 210.95,245.8 211.2,245.97 211.45,246.19 211.7,246.42 211.95,246.61 212.2,246.71 212.45,246.7 212.7,246.59 212.95,246.38 213.2,246.11 213.45,245.84 213.7,245.62 213.95,245.49 214.2,245.46 214.45,245.55 214.7,245.73 214.95,245.95 215.2,246.18 215.45,246.35 215.7,246.43 215.95,246.4 216.2,246.27 216.45,246.07 216.7,245.83 216.95,245.61 217.2,245.47 217.45,245.42 217.7,245.5 217.95,245.69 218.2,245.96 218.45,246.24 218.7,246.5 218.95,246.66 219.2,246.71 219.45,246.62 219.7,246.41 219.95,246.11 220.2,245.79 220.45,245.51 220.7,245.31 220.95,245.24 221.2,245.29 221.45,245.46 221.7,245.7 221.95,245.94 222.2,246.13 222.45,246.21 222.7,246.16 222.95,245.96 223.2,245.65 223.45,245.29 223.7,244.94 223.95,244.68 224.2,244.55 224.45,244.58 224.7,244.77 224.95,245.09 225.2,245.46 225.45,245.81 225.7,246.07 225.95,246.18 226.2,246.11 226.45,245.88 226.7,245.54 226.95,245.14 227.2,244.77 227.45,244.51 227.7,244.41 227.95,244.48 228.2,244.7 228.45,245.02 228.7,245.36 228.95,245.64 229.2,245.77 229.45,245.71 229.7,245.46 229.95,245.06 230.2,244.56 230.45,244.06 230.7,243.66 230.95,243.42 231.2,243.39 231.45,243.58 231.7,243.93 231.95,244.38 232.2,244.82 232.45,245.17 232.7,245.35 232.95,245.34 233.2,245.13 233.45,244.79 233.7,244.39 233.95,244.02 234.2,243.78 234.45,243.72 234.7,243.86 234.95,244.19 235.2,244.63 235.45,245.1 235.7,245.5 235.95,245.75 236.2,245.8 236.45,245.63 236.7,245.29 236.95,244.84 237.2,244.37 237.45,243.97 237.7,243.73 237.95,243.68 238.2,243.84 238.45,244.16 238.7,244.58 238.95,245 239.2,245.33 239.45,245.53 239.7,245.55 239.95,245.39 240.2,245.12 240.45,244.79 240.7,244.49 240.95,244.29 241.2,244.26 241.45,244.4 241.7,244.7 241.95,245.12 242.2,245.57 242.45,245.97 242.7,246.26 242.95,246.39 243.2,246.34 243.45,246.14 243.7,245.84 243.95,245.51 244.2,245.22 244.45,245.03 244.7,244.99 244.95,245.08 245.2,245.3 245.45,245.6 245.7,245.89 245.95,246.14 246.2,246.27 246.45,246.28 246.7,246.15 246.95,245.91 247.2,245.63 247.45,245.36 247.7,245.16 247.95,245.08 248.2,245.13 248.45,245.31 248.7,245.59 248.95,245.91 249.2,246.22 249.45,246.46 249.7,246.59 249.95,246.59 250.2,246.48 250.45,246.28 250.7,246.05 250.95,245.83 251.2,245.68 251.45,245.63 251.7,245.69 251.95,245.85 252.2,246.07 252.45,246.31 252.7,246.5 252.95,246.62 253.2,246.63 253.45,246.52 253.7,246.32 253.95,246.06 254.2,245.79 254.45,245.57 254.7,245.44 254.95,245.42 255.2,245.51 255.45,245.69 255.7,245.93 255.95,246.17 256.2,246.37 256.45,246.49 256.7,246.5 256.95,246.42 257.2,246.25 257.45,246.05 257.7,245.86 257.95,245.72 258.2,245.68 258.45,245.73 258.7,245.88 258.95,246.1 259.2,246.34 259.45,246.55 259.7,246.7 259.95,246.74 260.2,246.68 260.45,246.51 260.7,246.28 260.95,246.02 261.2,245.79 261.45,245.63 261.7,245.57 261.95,245.61 262.2,245.75 262.45,245.94 262.7,246.15 262.95,246.33 263.2,246.43 263.45,246.44 263.7,246.35 263.95,246.19 264.2,245.98 264.45,245.78 264.7,245.62 264.95,245.55 265.2,245.59 265.45,245.73 265.7,245.95 265.95,246.2 266.2,246.45 266.45,246.63 266.7,246.72 266.95,246.71 267.2,246.59 267.45,246.39 267.7,246.16 267.95,245.94 268.2,245.78 268.45,245.7 268.7,245.73 268.95,245.85 269.2,246.03 269.45,246.23 269.7,246.4 269.95,246.51 270.2,246.51 270.45,246.42 270.7,246.24 270.95,246.01 271.2,245.78 271.45,245.58 271.7,245.47 271.95,245.47 272.2,245.58 272.45,245.77 272.7,246.02 272.95,246.26 273.2,246.47 273.45,246.59 273.7,246.61 273.95,246.53 274.2,246.37 274.45,246.17 274.7,245.97 274.95,245.82 275.2,245.75 275.45,245.78 275.7,245.91 275.95,246.1 276.2,246.31 276.45,246.5 276.7,246.63 276.95,246.65 277.2,246.58 277.45,246.4 277.7,246.16 277.95,245.91 278.2,245.68 278.45,245.53 278.7,245.48 278.95,245.53 279.2,245.69 279.45,245.9 279.7,246.13 279.95,246.33 280.2,246.46 280.45,246.49 280.7,246.42 280.95,246.27 281.2,246.08 281.45,245.88 281.7,245.74 281.95,245.67 282.2,245.7 282.45,245.84 282.7,246.04 282.95,246.28 283.2,246.51 283.45,246.67 283.7,246.74 283.95,246.71 284.2,246.56 284.45,246.34 284.7,246.09 284.95,245.86 285.2,245.68 285.45,245.6 285.7,245.62 285.95,245.74 286.2,245.92 286.45,246.13 286.7,246.31 286.95,246.43 287.2,246.45 287.45,246.38 287.7,246.22 287.95,246.01 288.2,245.8 288.45,245.63 288.7,245.55 288.95,245.56 289.2,245.68 289.45,245.89 289.7,246.14 289.95,246.4 290.2,246.6 290.45,246.72 290.7,246.73 290.95,246.64 291.2,246.46 291.45,246.24 291.7,246.02 291.95,245.85 292.2,245.77 292.45,245.78 292.7,245.89 292.95,246.06 293.2,246.26 293.45,246.45 293.7,246.57 293.95,246.6 294.2,246.52 294.45,246.36 294.7,246.13 294.95,245.89 295.2,245.69 295.45,245.56 295.7,245.53 295.95,245.61 296.2,245.79 296.45,246.03 296.7,246.28 296.95,246.5 297.2,246.64 297.45,246.68 297.7,246.63 297.95,246.48 298.2,246.29 298.45,246.09 298.7,245.93 298.95,245.85 299.2,245.87 299.45,245.99 299.7,246.17 299.95,246.39 300.2,246.6 300.45,246.75 300.7,246.8 300.95,246.75 301.2,246.59 301.45,246.37 301.7,246.11 301.95,245.87 302.2,245.7 302.45,245.63 302.7,245.66 302.95,245.8 303.2,246 303.45,246.23 303.7,246.44 303.95,246.58 304.2,246.63 304.45,246.58 304.7,246.44 304.95,246.26 305.2,246.06 305.45,245.9 305.7,245.82 305.95,245.84 306.2,245.96 306.45,246.16 306.7,246.4 306.95,246.64 307.2,246.83 307.45,246.93 307.7,246.92 307.95,246.8 308.2,246.6 308.45,246.36 308.7,246.12 308.95,245.93 309.2,245.83 309.45,245.83 309.7,245.94 309.95,246.11 310.2,246.31 310.45,246.5 310.7,246.64 310.95,246.68 311.2,246.62 311.45,246.48 311.7,246.27 311.95,246.06 312.2,245.87 312.45,245.76 312.7,245.76 312.95,245.86 313.2,246.05 313.45,246.3 313.7,246.55 313.95,246.77 314.2,246.91 314.45,246.95 314.7,246.88 314.95,246.72 315.2,246.51 315.45,246.29 315.7,246.11 315.95,246.01 316.2,246.01 316.45,246.1 316.7,246.27 316.95,246.47 317.2,246.66 317.45,246.8 317.7,246.85 317.95,246.79 318.2,246.64 318.45,246.42 318.7,246.18 318.95,245.96 319.2,245.8 319.45,245.75 319.7,245.81 319.95,245.96 320.2,246.19 320.45,246.44 320.7,246.66 320.95,246.82 321.2,246.89 321.45,246.85 321.7,246.72 321.95,246.53 322.2,246.33 322.45,246.17 322.7,246.08 322.95,246.08 323.2,246.18 323.45,246.36 323.7,246.58 323.95,246.8 324.2,246.96 324.45,247.04 324.7,247.01 324.95,246.88 325.2,246.67 325.45,246.41 325.7,246.17 325.95,245.98 326.2,245.88 326.45,245.89 326.7,246 326.95,246.19 327.2,246.41 327.45,246.62 327.7,246.78 327.95,246.84 328.2,246.81 328.45,246.69 328.7,246.5 328.95,246.3 329.2,246.13 329.45,246.03 329.7,246.03 329.95,246.13 330.2,246.32 330.45,246.56 330.7,246.8 330.95,247.01 331.2,247.13 331.45,247.14 331.7,247.05 331.95,246.86 332.2,246.63 332.45,246.38 332.7,246.18 332.95,246.06 333.2,246.04 333.45,246.13 333.7,246.28 333.95,246.48 334.2,246.67 334.45,246.82 334.7,246.87 334.95,246.83 335.2,246.69 335.45,246.49 335.7,246.27 335.95,246.06 336.2,245.93 336.45,245.9 336.7,245.97 336.95,246.14 337.2,246.38 337.45,246.64 337.7,246.87 337.95,247.02 338.2,247.08 338.45,247.03 338.7,246.89 338.95,246.69 339.2,246.47 339.45,246.28 339.7,246.17 339.95,246.15 340.2,246.22 340.45,246.38 340.7,246.58 340.95,246.77 341.2,246.92 341.45,246.99 341.7,246.95 341.95,246.81 342.2,246.6 342.45,246.35 342.7,246.11 342.95,245.94 343.2,245.85 343.45,245.88 343.7,246.01 343.95,246.22 344.2,246.46 344.45,246.69 344.7,246.86 344.95,246.95 345.2,246.92 345.45,246.81 345.7,246.63 345.95,246.43 346.2,246.25 346.45,246.14 346.7,246.13 346.95,246.21 347.2,246.38 347.45,246.6 347.7,246.82 347.95,247 348.2,247.1 348.45,247.1 348.7,246.98 348.95,246.78 349.2,246.53 349.45,246.28 349.7,246.07 349.95,245.95 350.2,245.93 350.45,246.02 350.7,246.19 350.95,246.4 351.2,246.61 351.45,246.77 351.7,246.85 351.95,246.83 352.2,246.72 352.45,246.54 352.7,246.33 352.95,246.15 353.2,246.03 353.45,246 353.7,246.08 353.95,246.26 354.2,246.49 354.45,246.74 354.7,246.96 354.95,247.1 355.2,247.15 355.45,247.08 355.7,246.91 355.95,246.69 356.2,246.45 356.45,246.24 356.7,246.1 356.95,246.06 357.2,246.13 357.45,246.27 357.7,246.46 357.95,246.66 358.2,246.81 358.45,246.88 358.7,246.86 358.95,246.73 359.2,246.54 359.45,246.31 359.7,246.09" fill="none" stroke="#f22c2c" stroke-width="1.45" stroke-linejoin="round"/>
<rect x="208.9" y="158.4" width="151.3" height="112.8" fill="none" stroke="#575757" stroke-width="1.3"/>
<text x="206.6" y="273.8" text-anchor="end" style="font-size:7.6px;font-weight:bold;font-family:'Liberation Serif',serif" fill="#111" stroke="#111" stroke-width="0.22" >0</text>
<line x1="208.9" y1="246.1" x2="211.1" y2="246.1" stroke="#333" stroke-width="0.9"/>
<text x="206.6" y="248.7" text-anchor="end" style="font-size:7.6px;font-weight:bold;font-family:'Liberation Serif',serif" fill="#111" stroke="#111" stroke-width="0.22" >20</text>
<line x1="208.9" y1="221" x2="211.1" y2="221" stroke="#333" stroke-width="0.9"/>
<text x="206.6" y="223.6" text-anchor="end" style="font-size:7.6px;font-weight:bold;font-family:'Liberation Serif',serif" fill="#111" stroke="#111" stroke-width="0.22" >40</text>
<line x1="208.9" y1="195.9" x2="211.1" y2="195.9" stroke="#333" stroke-width="0.9"/>
<text x="206.6" y="198.5" text-anchor="end" style="font-size:7.6px;font-weight:bold;font-family:'Liberation Serif',serif" fill="#111" stroke="#111" stroke-width="0.22" >60</text>
<line x1="208.9" y1="170.8" x2="211.1" y2="170.8" stroke="#333" stroke-width="0.9"/>
<text x="206.6" y="173.4" text-anchor="end" style="font-size:7.6px;font-weight:bold;font-family:'Liberation Serif',serif" fill="#111" stroke="#111" stroke-width="0.22" >80</text>
<line x1="237.72" y1="271.2" x2="237.72" y2="273.4" stroke="#333" stroke-width="0.9"/>
<text x="237.72" y="279.6" text-anchor="middle" style="font-size:7.6px;font-weight:bold;font-family:'Liberation Serif',serif" fill="#111" stroke="#111" stroke-width="0.22" >9</text>
<line x1="273.74" y1="271.2" x2="273.74" y2="273.4" stroke="#333" stroke-width="0.9"/>
<text x="273.74" y="279.6" text-anchor="middle" style="font-size:7.6px;font-weight:bold;font-family:'Liberation Serif',serif" fill="#111" stroke="#111" stroke-width="0.22" >10</text>
<line x1="309.77" y1="271.2" x2="309.77" y2="273.4" stroke="#333" stroke-width="0.9"/>
<text x="309.77" y="279.6" text-anchor="middle" style="font-size:7.6px;font-weight:bold;font-family:'Liberation Serif',serif" fill="#111" stroke="#111" stroke-width="0.22" >11</text>
<line x1="345.79" y1="271.2" x2="345.79" y2="273.4" stroke="#333" stroke-width="0.9"/>
<text x="345.79" y="279.6" text-anchor="middle" style="font-size:7.6px;font-weight:bold;font-family:'Liberation Serif',serif" fill="#111" stroke="#111" stroke-width="0.22" >12</text>
<text x="284.55" y="291.8" text-anchor="middle" style="font-size:7.9px;font-weight:bold;font-family:'Liberation Serif',serif" fill="#111" stroke="#111" stroke-width="0.22" >Frequency/GHz</text>
<text transform="translate(194,214.8) rotate(-90)" text-anchor="middle" style="font-size:7.6px;font-weight:bold;font-family:'Liberation Serif',serif" fill="#111" stroke="#111" stroke-width="0.2">EMI/dB</text>
<text x="227.3" y="205" text-anchor="start" style="font-size:10.4px;font-weight:bold;font-family:'Liberation Serif',serif" fill="#111" stroke="#111" stroke-width="0.22" >PSA@Ni-P-B@Ag</text>
<rect x="248.4" y="206.6" width="42.5" height="29" fill="#d2cce4"/>
<rect x="248.4" y="206.6" width="42.5" height="15.370000000000001" fill="#bb9c5e"/>
<rect x="252.225" y="206.6" width="31.6625" height="15.370000000000001" fill="#d3e2dc"/>
<rect x="252.225" y="206.6" width="31.6625" height="15.370000000000001" fill="url(#hatch)"/>
<rect x="252.225" y="206.6" width="31.6625" height="15.370000000000001" fill="url(#hatch2)"/>
<line x1="250.9" y1="222.27" x2="250.9" y2="224.57" stroke="#8a86a0" stroke-width="0.35"/>
<line x1="253.8" y1="222.27" x2="253.8" y2="223.57" stroke="#8a86a0" stroke-width="0.35"/>
<line x1="256.7" y1="222.27" x2="256.7" y2="224.57" stroke="#8a86a0" stroke-width="0.35"/>
<line x1="259.6" y1="222.27" x2="259.6" y2="223.57" stroke="#8a86a0" stroke-width="0.35"/>
<line x1="262.5" y1="222.27" x2="262.5" y2="224.57" stroke="#8a86a0" stroke-width="0.35"/>
<line x1="265.4" y1="222.27" x2="265.4" y2="223.57" stroke="#8a86a0" stroke-width="0.35"/>
<line x1="268.3" y1="222.27" x2="268.3" y2="224.57" stroke="#8a86a0" stroke-width="0.35"/>
<line x1="271.2" y1="222.27" x2="271.2" y2="223.57" stroke="#8a86a0" stroke-width="0.35"/>
<line x1="274.1" y1="222.27" x2="274.1" y2="224.57" stroke="#8a86a0" stroke-width="0.35"/>
<line x1="277" y1="222.27" x2="277" y2="223.57" stroke="#8a86a0" stroke-width="0.35"/>
<line x1="279.9" y1="222.27" x2="279.9" y2="224.57" stroke="#8a86a0" stroke-width="0.35"/>
<line x1="282.8" y1="222.27" x2="282.8" y2="223.57" stroke="#8a86a0" stroke-width="0.35"/>
<line x1="285.7" y1="222.27" x2="285.7" y2="224.57" stroke="#8a86a0" stroke-width="0.35"/>
<line x1="288.6" y1="222.27" x2="288.6" y2="223.57" stroke="#8a86a0" stroke-width="0.35"/>
<text x="252.4" y="228.97" style="font-size:3.6px;font-family:'Liberation Serif',serif" fill="#55526a">0</text>
<text x="263.4" y="228.97" style="font-size:3.6px;font-family:'Liberation Serif',serif" fill="#55526a">1</text>
<text x="274.4" y="228.97" style="font-size:3.6px;font-family:'Liberation Serif',serif" fill="#55526a">2</text>
<text x="285.4" y="228.97" style="font-size:3.6px;font-family:'Liberation Serif',serif" fill="#55526a">3</text>
<path d="M258.4,229.47 q3,3 7,2.5 q4,-0.5 6,3 q2,2.5 5,2" fill="none" stroke="#9fb0d8" stroke-width="0.6"/>
<rect x="318.5" y="204.7" width="27.7" height="26.4" fill="#fff" stroke="#aaa" stroke-width="0.6"/>
<line x1="319.0" y1="208.7" x2="334.0" y2="208.7" stroke="#3c3c3c" stroke-width="1.6"/>
<text x="335.0" y="211" style="font-size:6.6px;font-family:'Liberation Serif',serif" fill="#222">SE<tspan dy="1.6" style="font-size:4.3px">T</tspan></text>
<line x1="319.0" y1="217.4" x2="334.0" y2="217.4" stroke="#f44848" stroke-width="1.6"/>
<text x="335.0" y="219.7" style="font-size:6.6px;font-family:'Liberation Serif',serif" fill="#222">SE<tspan dy="1.6" style="font-size:4.3px">R</tspan></text>
<line x1="319.0" y1="226.1" x2="334.0" y2="226.1" stroke="#1464ee" stroke-width="1.6"/>
<text x="335.0" y="228.4" style="font-size:6.6px;font-family:'Liberation Serif',serif" fill="#222">SE<tspan dy="1.6" style="font-size:4.3px">A</tspan></text>
<text x="371" y="163.5" style="font-size:17.2px;font-family:'Liberation Serif',serif" fill="#111" stroke="#111" stroke-width="0.25">(f)</text>
<polyline points="413.6,152 427.6,153.8 535.3,153.5 535.3,264 533,274.5 414,271 413.6,152" stroke="#555" stroke-width="0.7" fill="none"/>
<polyline points="427.6,153.8 427.6,260.5 535.3,264" stroke="#555" stroke-width="0.7" fill="none"/>
<line x1="427.6" y1="260.5" x2="414" y2="271" stroke="#555" stroke-width="0.7" fill="none"/>
<line x1="413.6" y1="152" x2="413.6" y2="271" stroke="#333" stroke-width="0.8"/>
<line x1="410" y1="270.8" x2="413.6" y2="270.8" stroke="#333" stroke-width="0.8"/>
<text x="409" y="273.1" text-anchor="end" style="font-size:6.8px;font-weight:bold;font-family:'Liberation Serif',serif" fill="#111" stroke="#111" stroke-width="0.22" >0</text>
<line x1="410" y1="244.7" x2="413.6" y2="244.7" stroke="#333" stroke-width="0.8"/>
<text x="409" y="247" text-anchor="end" style="font-size:6.8px;font-weight:bold;font-family:'Liberation Serif',serif" fill="#111" stroke="#111" stroke-width="0.22" >20</text>
<line x1="410" y1="218.6" x2="413.6" y2="218.6" stroke="#333" stroke-width="0.8"/>
<text x="409" y="220.9" text-anchor="end" style="font-size:6.8px;font-weight:bold;font-family:'Liberation Serif',serif" fill="#111" stroke="#111" stroke-width="0.22" >40</text>
<line x1="410" y1="192.1" x2="413.6" y2="192.1" stroke="#333" stroke-width="0.8"/>
<text x="409" y="194.4" text-anchor="end" style="font-size:6.8px;font-weight:bold;font-family:'Liberation Serif',serif" fill="#111" stroke="#111" stroke-width="0.22" >60</text>
<line x1="410" y1="166" x2="413.6" y2="166" stroke="#333" stroke-width="0.8"/>
<text x="409" y="168.3" text-anchor="end" style="font-size:6.8px;font-weight:bold;font-family:'Liberation Serif',serif" fill="#111" stroke="#111" stroke-width="0.22" >80</text>
<line x1="433.5" y1="271.57" x2="433.5" y2="273.57" stroke="#555" stroke-width="0.6"/>
<line x1="452.9" y1="272.14" x2="452.9" y2="274.14" stroke="#555" stroke-width="0.6"/>
<line x1="472.3" y1="272.71" x2="472.3" y2="274.71" stroke="#555" stroke-width="0.6"/>
<line x1="492.3" y1="273.3" x2="492.3" y2="275.3" stroke="#555" stroke-width="0.6"/>
<line x1="512" y1="273.88" x2="512" y2="275.88" stroke="#555" stroke-width="0.6"/>
<line x1="531.5" y1="274.46" x2="531.5" y2="276.46" stroke="#555" stroke-width="0.6"/>
<text transform="translate(398.6,207.5) rotate(-90)" text-anchor="middle" style="font-size:6.4px;font-weight:bold;font-family:'Liberation Serif',serif" fill="#111" stroke="#111" stroke-width="0.2">EMI-SE(dB)</text>
<rect x="451.1" y="165.3" width="13.6" height="25.5" fill="url(#cyl1)"/>
<path d="M451.1,190.8 L464.7,190.8 L464.7,265.1 Q464.7,267.1 457.9,267.1 Q451.1,267.1 451.1,265.1 Z" fill="url(#cyl2)"/>
<rect x="489.3" y="162.3" width="13.2" height="26.6" fill="url(#cyl1)"/>
<path d="M489.3,188.9 L502.5,188.9 L502.5,266.6 Q502.5,268.6 495.9,268.6 Q489.3,268.6 489.3,266.6 Z" fill="url(#cyl2)"/>
<rect x="505.4" y="156.2" width="12.1" height="5.6" fill="#b6e6ee"/>
<rect x="505.4" y="164" width="12.1" height="5.9" fill="#2fb8c6"/>
<text x="518.9" y="161.5" style="font-size:5.6px;font-weight:bold;font-family:'Liberation Serif',serif" fill="#111">SE<tspan dy="1.3" style="font-size:3.8px">R</tspan></text>
<text x="518.9" y="169.5" style="font-size:5.6px;font-weight:bold;font-family:'Liberation Serif',serif" fill="#111">SE<tspan dy="1.3" style="font-size:3.8px">A</tspan></text>
<text transform="translate(436.5,290.7) rotate(-8)" style="font-size:7.6px;font-weight:bold;font-family:'Liberation Serif',serif" fill="#111" stroke="#111" stroke-width="0.2">PSA@Ni@ Ag</text>
<text transform="translate(477.6,292.8) rotate(-9.4)" style="font-size:7.6px;font-weight:bold;font-family:'Liberation Serif',serif" fill="#111" stroke="#111" stroke-width="0.2">PSA@Ni-P-B@Ag</text>
</svg></body></html>
